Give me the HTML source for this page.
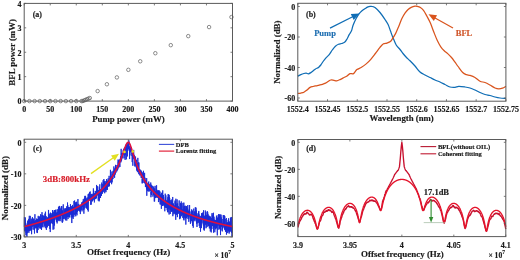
<!DOCTYPE html>
<html><head><meta charset="utf-8"><style>
html,body{margin:0;padding:0;background:#fff;}
body{width:520px;height:260px;overflow:hidden;}
svg{display:block;}
svg text{font-family:"Liberation Serif", "Times New Roman", serif;font-weight:bold;color:#1a1a1a;fill:currentColor;stroke:currentColor;stroke-width:0.16px;}
</style></head><body>
<svg width="520" height="260" viewBox="0 0 520 260">
<rect width="520" height="260" fill="#fff"/>
<g fill="none" stroke="#5c5c5c" stroke-width="0.7"><circle cx="24.2" cy="101.1" r="1.75"/><circle cx="29.41" cy="101.1" r="1.75"/><circle cx="34.62" cy="101.1" r="1.75"/><circle cx="39.82" cy="101.1" r="1.75"/><circle cx="45.03" cy="101.1" r="1.75"/><circle cx="50.24" cy="101.1" r="1.75"/><circle cx="55.45" cy="101.1" r="1.75"/><circle cx="60.65" cy="101.1" r="1.75"/><circle cx="65.86" cy="101.1" r="1.75"/><circle cx="71.07" cy="101.1" r="1.75"/><circle cx="76.28" cy="101.1" r="1.75"/><circle cx="81.48" cy="101.1" r="1.75"/><circle cx="82.78" cy="101" r="1.75"/><circle cx="84.19" cy="100.42" r="1.75"/><circle cx="85.6" cy="99.83" r="1.75"/><circle cx="87" cy="99.22" r="1.75"/><circle cx="88.41" cy="98.61" r="1.75"/><circle cx="89.81" cy="98" r="1.75"/><circle cx="97.63" cy="91.09" r="1.75"/><circle cx="106.9" cy="84.25" r="1.75"/><circle cx="116.89" cy="77.41" r="1.75"/><circle cx="128.35" cy="69.84" r="1.75"/><circle cx="140.22" cy="61.29" r="1.75"/><circle cx="155.32" cy="53.23" r="1.75"/><circle cx="170.79" cy="45.17" r="1.75"/><circle cx="188.24" cy="36.13" r="1.75"/><circle cx="209.07" cy="27.09" r="1.75"/><circle cx="231.46" cy="17.08" r="1.75"/></g>
<path d="M24.2,101.1 v-2.0 M24.2,3.4 v2.0 M50.24,101.1 v-2.0 M50.24,3.4 v2.0 M76.28,101.1 v-2.0 M76.28,3.4 v2.0 M102.31,101.1 v-2.0 M102.31,3.4 v2.0 M128.35,101.1 v-2.0 M128.35,3.4 v2.0 M154.39,101.1 v-2.0 M154.39,3.4 v2.0 M180.43,101.1 v-2.0 M180.43,3.4 v2.0 M206.46,101.1 v-2.0 M206.46,3.4 v2.0 M232.5,101.1 v-2.0 M232.5,3.4 v2.0 M24.2,101.1 h2.0 M232.5,101.1 h-2.0 M24.2,76.67 h2.0 M232.5,76.67 h-2.0 M24.2,52.25 h2.0 M232.5,52.25 h-2.0 M24.2,27.83 h2.0 M232.5,27.83 h-2.0 M24.2,3.4 h2.0 M232.5,3.4 h-2.0" stroke="#5a5a5a" stroke-width="0.8" fill="none"/>
<rect x="24.2" y="3.4" width="208.3" height="97.7" stroke="#5a5a5a" stroke-width="1" fill="none"/>
<text x="24.2" y="111.8" text-anchor="middle" font-size="8">0</text>
<text x="50.24" y="111.8" text-anchor="middle" font-size="8">50</text>
<text x="76.28" y="111.8" text-anchor="middle" font-size="8">100</text>
<text x="102.31" y="111.8" text-anchor="middle" font-size="8">150</text>
<text x="128.35" y="111.8" text-anchor="middle" font-size="8">200</text>
<text x="154.39" y="111.8" text-anchor="middle" font-size="8">250</text>
<text x="180.43" y="111.8" text-anchor="middle" font-size="8">300</text>
<text x="206.46" y="111.8" text-anchor="middle" font-size="8">350</text>
<text x="232.5" y="111.8" text-anchor="middle" font-size="8">400</text>
<text x="21.6" y="104.4" text-anchor="end" font-size="8">0</text>
<text x="21.6" y="79.97" text-anchor="end" font-size="8">1</text>
<text x="21.6" y="55.55" text-anchor="end" font-size="8">2</text>
<text x="21.6" y="31.13" text-anchor="end" font-size="8">3</text>
<text x="21.6" y="6.7" text-anchor="end" font-size="8">4</text>
<text x="128.4" y="121.6" text-anchor="middle" font-size="8.85">Pump power (mW)</text>
<text transform="translate(15.2,52.3) rotate(-90)" text-anchor="middle" font-size="8.85">BFL power (mW)</text>
<text x="32.7" y="17.2" font-size="8">(a)</text>
<path d="M297.8,76.2 C298.3,75.93 299.78,75.05 300.8,74.6 C301.82,74.15 303,73.73 303.9,73.5 C304.8,73.27 305.43,73.15 306.2,73.2 C306.97,73.25 307.73,73.9 308.5,73.8 C309.27,73.7 310.02,73.1 310.8,72.6 C311.58,72.1 312.42,71.42 313.2,70.8 C313.98,70.18 314.62,69.47 315.5,68.9 C316.38,68.33 317.62,68.05 318.5,67.4 C319.38,66.75 320.03,65.98 320.8,65 C321.57,64.02 322.2,62.72 323.1,61.5 C324,60.28 325.18,58.85 326.2,57.7 C327.22,56.55 328.18,55.88 329.2,54.6 C330.22,53.32 331.27,51.4 332.3,50 C333.33,48.6 334.37,47.17 335.4,46.2 C336.43,45.23 337.48,44.65 338.5,44.2 C339.52,43.75 340.48,43.82 341.5,43.5 C342.52,43.18 343.7,43.02 344.6,42.3 C345.5,41.58 346.13,40.48 346.9,39.2 C347.67,37.92 348.43,36 349.2,34.6 C349.97,33.2 350.87,32.32 351.5,30.8 C352.13,29.28 352.25,27.5 353,25.5 C353.75,23.5 354.97,20.78 356,18.8 C357.03,16.82 358.2,14.93 359.2,13.6 C360.2,12.27 360.97,11.67 362,10.8 C363.03,9.93 364.4,9.05 365.4,8.4 C366.4,7.75 367.23,7.23 368,6.9 C368.77,6.57 369.25,6.47 370,6.4 C370.75,6.33 371.67,6.3 372.5,6.5 C373.33,6.7 373.75,6.6 375,7.6 C376.25,8.6 378.33,10.52 380,12.5 C381.67,14.48 383.65,17.48 385,19.5 C386.35,21.52 387.2,22.72 388.1,24.6 C389,26.48 389.63,28.73 390.4,30.8 C391.17,32.87 391.73,34.63 392.7,37 C393.67,39.37 394.98,42.92 396.2,45 C397.42,47.08 398.87,48.08 400,49.5 C401.13,50.92 401.92,52.17 403,53.5 C404.08,54.83 405.33,56.28 406.5,57.5 C407.67,58.72 408.58,59.38 410,60.8 C411.42,62.22 413.33,64.13 415,66 C416.67,67.87 418.33,70.5 420,72 C421.67,73.5 423.33,74.08 425,75 C426.67,75.92 428.33,76.67 430,77.5 C431.67,78.33 433.33,79.25 435,80 C436.67,80.75 438.33,81.25 440,82 C441.67,82.75 443.33,83.67 445,84.5 C446.67,85.33 448.33,86.52 450,87 C451.67,87.48 453.54,87.5 455,87.4 C456.46,87.3 457.08,86.47 458.75,86.4 C460.42,86.33 463.12,86.73 465,87 C466.88,87.27 468.33,87.5 470,88 C471.67,88.5 473.33,89.25 475,90 C476.67,90.75 478.33,91.75 480,92.5 C481.67,93.25 483.33,94 485,94.5 C486.67,95 488.33,95.08 490,95.5 C491.67,95.92 493.33,96.58 495,97 C496.67,97.42 498.18,97.78 500,98 C501.82,98.22 504.92,98.25 505.9,98.3" stroke="#0f6db5" stroke-width="1.25" fill="none" stroke-linejoin="round"/>
<path d="M297.8,93.5 C298.3,93.43 299.78,93.3 300.8,93.1 C301.82,92.9 302.87,92.82 303.9,92.3 C304.93,91.78 305.97,90.82 307,90 C308.03,89.18 309.07,87.98 310.1,87.4 C311.13,86.82 312.18,86.77 313.2,86.5 C314.22,86.23 315.18,86.03 316.2,85.8 C317.22,85.57 318.27,85.35 319.3,85.1 C320.33,84.85 321.37,84.63 322.4,84.3 C323.43,83.97 324.48,83.62 325.5,83.1 C326.52,82.58 327.62,81.72 328.5,81.2 C329.38,80.68 329.9,80.15 330.8,80 C331.7,79.85 332.92,80.17 333.9,80.3 C334.88,80.43 335.68,80.92 336.7,80.8 C337.72,80.68 338.78,80.15 340,79.6 C341.22,79.05 342.83,78.12 344,77.5 C345.17,76.88 346,76.55 347,75.9 C348,75.25 348.92,73.98 350,73.6 C351.08,73.22 352.35,74.27 353.5,73.6 C354.65,72.93 355.57,70.65 356.9,69.6 C358.23,68.55 359.95,68.25 361.5,67.3 C363.05,66.35 364.65,65.23 366.2,63.9 C367.75,62.57 369.27,61.03 370.8,59.3 C372.33,57.57 373.87,55.5 375.4,53.5 C376.93,51.5 378.65,48.92 380,47.3 C381.35,45.68 382.33,44.5 383.5,43.8 C384.67,43.1 385.85,43.47 387,43.1 C388.15,42.73 389.45,42.4 390.4,41.6 C391.35,40.8 391.8,39.72 392.7,38.3 C393.6,36.88 394.78,35.12 395.8,33.1 C396.82,31.08 397.78,28.63 398.8,26.2 C399.82,23.77 400.87,20.68 401.9,18.5 C402.93,16.32 403.97,14.6 405,13.1 C406.03,11.6 407.07,10.45 408.1,9.5 C409.13,8.55 410.05,7.95 411.2,7.4 C412.35,6.85 413.98,6.37 415,6.2 C416.02,6.03 416.4,6.17 417.3,6.4 C418.2,6.63 419.37,6.93 420.4,7.6 C421.43,8.27 422.42,8.97 423.5,10.4 C424.58,11.83 425.75,14.08 426.9,16.2 C428.05,18.32 429.23,20.42 430.4,23.1 C431.57,25.78 432.75,29.4 433.9,32.3 C435.05,35.2 436.15,38.08 437.3,40.5 C438.45,42.92 439.65,45.08 440.8,46.8 C441.95,48.52 443.05,49.67 444.2,50.8 C445.35,51.93 446.48,52.48 447.7,53.6 C448.92,54.72 450.28,56.07 451.5,57.5 C452.72,58.93 453.9,60.7 455,62.2 C456.1,63.7 456.82,64.78 458.1,66.5 C459.38,68.22 461.3,71.13 462.7,72.5 C464.1,73.87 465.28,74.22 466.5,74.7 C467.72,75.18 468.58,74.93 470,75.4 C471.42,75.87 473.33,76.53 475,77.5 C476.67,78.47 478.33,80.42 480,81.25 C481.67,82.08 483.33,81.88 485,82.5 C486.67,83.12 488.33,84.08 490,85 C491.67,85.92 493.54,87.35 495,88 C496.46,88.65 497.5,88.87 498.75,88.9 C500,88.93 501.31,88.63 502.5,88.2 C503.69,87.77 505.33,86.62 505.9,86.3" stroke="#d9541d" stroke-width="1.25" fill="none" stroke-linejoin="round"/>
<line x1="330" y1="28.1" x2="353.14" y2="16.53" stroke="#0f6db5" stroke-width="1.2"/>
<polygon points="359.4,13.4 353.7,19.88 350.79,14.07" fill="#0f6db5"/>
<line x1="453" y1="28.1" x2="434.59" y2="17.65" stroke="#d9541d" stroke-width="1.2"/>
<polygon points="428.5,14.2 437.06,15.32 433.85,20.97" fill="#d9541d"/>
<text x="325.0" y="36.0" text-anchor="middle" font-size="8.5" style="color:#1f6fb2">Pump</text>
<text x="464.0" y="36.4" text-anchor="middle" font-size="8.5" style="color:#d0562a">BFL</text>
<path d="M297.8,101.2 v-2.0 M297.8,3.3 v2.0 M327.53,101.2 v-2.0 M327.53,3.3 v2.0 M357.26,101.2 v-2.0 M357.26,3.3 v2.0 M386.99,101.2 v-2.0 M386.99,3.3 v2.0 M416.71,101.2 v-2.0 M416.71,3.3 v2.0 M446.44,101.2 v-2.0 M446.44,3.3 v2.0 M476.17,101.2 v-2.0 M476.17,3.3 v2.0 M505.9,101.2 v-2.0 M505.9,3.3 v2.0 M297.8,6.5 h2.0 M505.9,6.5 h-2.0 M297.8,37 h2.0 M505.9,37 h-2.0 M297.8,67.5 h2.0 M505.9,67.5 h-2.0 M297.8,98 h2.0 M505.9,98 h-2.0" stroke="#5a5a5a" stroke-width="0.8" fill="none"/>
<rect x="297.8" y="3.3" width="208.1" height="97.9" stroke="#5a5a5a" stroke-width="1" fill="none"/>
<text x="297.8" y="111.8" text-anchor="middle" font-size="8">1552.4</text>
<text x="327.53" y="111.8" text-anchor="middle" font-size="8">1552.45</text>
<text x="357.26" y="111.8" text-anchor="middle" font-size="8">1552.5</text>
<text x="386.99" y="111.8" text-anchor="middle" font-size="8">1552.55</text>
<text x="416.71" y="111.8" text-anchor="middle" font-size="8">1552.6</text>
<text x="446.44" y="111.8" text-anchor="middle" font-size="8">1552.65</text>
<text x="476.17" y="111.8" text-anchor="middle" font-size="8">1552.7</text>
<text x="505.9" y="111.8" text-anchor="middle" font-size="8">1552.75</text>
<text x="295.2" y="9.8" text-anchor="end" font-size="8">0</text>
<text x="295.2" y="40.3" text-anchor="end" font-size="8">-20</text>
<text x="295.2" y="70.8" text-anchor="end" font-size="8">-40</text>
<text x="295.2" y="101.3" text-anchor="end" font-size="8">-60</text>
<text x="401.6" y="121.3" text-anchor="middle" font-size="8.75">Wavelength (nm)</text>
<text transform="translate(280.3,52.2) rotate(-90)" text-anchor="middle" font-size="8.9">Normalized (dB)</text>
<text x="306" y="17.3" font-size="8">(b)</text>
<path d="M24.2,226.66 L24.3,225.18 L24.41,217.15 L24.51,230.91 L24.62,228.76 L24.72,231.34 L24.82,226.21 L24.93,219.97 L25.03,228.83 L25.14,229.43 L25.24,224.01 L25.35,217.44 L25.45,225.82 L25.55,230.82 L25.66,224.71 L25.76,222.88 L25.87,232.74 L25.97,228.41 L26.07,235.37 L26.18,232.38 L26.28,235.03 L26.39,227.22 L26.49,232.19 L26.6,224.71 L26.7,225.24 L26.8,226.88 L26.91,236.9 L27.01,228.52 L27.12,226.12 L27.22,225.31 L27.32,233.22 L27.43,228.11 L27.53,230.5 L27.64,229.65 L27.74,220.6 L27.85,229.59 L27.95,225.82 L28.05,221.37 L28.16,228.42 L28.26,226.11 L28.37,225.01 L28.47,225.21 L28.57,231.39 L28.68,225.09 L28.78,218.89 L28.89,232.86 L28.99,219.94 L29.1,224.77 L29.2,228.41 L29.3,215.83 L29.41,221.59 L29.51,231 L29.62,224.84 L29.72,222.4 L29.82,226.05 L29.93,221.83 L30.03,225.41 L30.14,221.85 L30.24,215.89 L30.34,228.25 L30.45,224 L30.55,229.58 L30.66,224.3 L30.76,230.58 L30.87,227.63 L30.97,225.77 L31.07,220.49 L31.18,219.28 L31.28,231.08 L31.39,228.52 L31.49,221.58 L31.59,234.19 L31.7,226.84 L31.8,225.06 L31.91,218.54 L32.01,221.23 L32.12,226.07 L32.22,226.24 L32.32,225.64 L32.43,217.13 L32.53,226.43 L32.64,225.81 L32.74,222.64 L32.84,224.87 L32.95,225.21 L33.05,229.55 L33.16,222.67 L33.26,226.29 L33.37,218.58 L33.47,221 L33.57,224.2 L33.68,220.87 L33.78,225.64 L33.89,218.98 L33.99,223.99 L34.09,221.15 L34.2,230.05 L34.3,222.22 L34.41,231.88 L34.51,233.5 L34.62,225.23 L34.72,228.03 L34.82,222.94 L34.93,214.23 L35.03,227.62 L35.14,226.6 L35.24,222.62 L35.34,221.23 L35.45,224.38 L35.55,224.49 L35.66,220.14 L35.76,220.98 L35.87,228.32 L35.97,223.76 L36.07,223.19 L36.18,228.32 L36.28,222.06 L36.39,227.33 L36.49,218.62 L36.59,222.29 L36.7,222.75 L36.8,225.94 L36.91,223.67 L37.01,232.53 L37.11,228.4 L37.22,221.3 L37.32,233.05 L37.43,218.95 L37.53,231.18 L37.64,219.31 L37.74,226.85 L37.84,219.14 L37.95,222.17 L38.05,230.02 L38.16,216.83 L38.26,215.89 L38.36,222.98 L38.47,223.93 L38.57,223.36 L38.68,227.17 L38.78,217.36 L38.89,225.07 L38.99,222.72 L39.09,226.18 L39.2,225.36 L39.3,228.4 L39.41,216.43 L39.51,223.04 L39.61,217.74 L39.72,222.19 L39.82,225.49 L39.93,223.72 L40.03,224.79 L40.14,222.09 L40.24,223.86 L40.34,223.47 L40.45,228.5 L40.55,225.78 L40.66,214.2 L40.76,225.08 L40.86,226.84 L40.97,220.28 L41.07,215.23 L41.18,228.62 L41.28,222.74 L41.39,224.7 L41.49,229.95 L41.59,218.22 L41.7,228.24 L41.8,221.27 L41.91,225.09 L42.01,212.14 L42.11,224.03 L42.22,222.14 L42.32,226.62 L42.43,227.09 L42.53,215.13 L42.63,223.71 L42.74,219.94 L42.84,221.43 L42.95,223.3 L43.05,223.58 L43.16,218.23 L43.26,222.55 L43.36,221.81 L43.47,220.97 L43.57,215.55 L43.68,217.83 L43.78,219.19 L43.88,223.56 L43.99,227.34 L44.09,216.45 L44.2,216.34 L44.3,221.46 L44.41,218.25 L44.51,220.06 L44.61,216.83 L44.72,216.38 L44.82,225.71 L44.93,213.56 L45.03,226.36 L45.13,216.53 L45.24,218.2 L45.34,216.41 L45.45,211.71 L45.55,213.5 L45.66,225.67 L45.76,228.16 L45.86,216.5 L45.97,224.96 L46.07,220.28 L46.18,216.3 L46.28,227.76 L46.38,229.89 L46.49,218.88 L46.59,219.84 L46.7,221.15 L46.8,219.8 L46.91,223.92 L47.01,226.9 L47.11,220.64 L47.22,224.33 L47.32,227.39 L47.43,217.43 L47.53,220.02 L47.63,217.82 L47.74,224.23 L47.84,222.66 L47.95,224.2 L48.05,223.64 L48.15,218.62 L48.26,223.09 L48.36,217.81 L48.47,209.95 L48.57,210.05 L48.68,225.75 L48.78,215.22 L48.88,219.68 L48.99,219.3 L49.09,225.87 L49.2,221.28 L49.3,215.71 L49.4,219.47 L49.51,225.56 L49.61,220.35 L49.72,213.68 L49.82,219.04 L49.93,229.01 L50.03,222.05 L50.13,227.87 L50.24,232.05 L50.34,221.19 L50.45,212.62 L50.55,218.48 L50.65,224.02 L50.76,222.92 L50.86,213.41 L50.97,217.82 L51.07,218.29 L51.18,218.72 L51.28,218.26 L51.38,214.72 L51.49,215.84 L51.59,217.34 L51.7,223.05 L51.8,215.92 L51.9,221.33 L52.01,213.18 L52.11,218.38 L52.22,218.73 L52.32,218.1 L52.43,224.06 L52.53,210.14 L52.63,211.3 L52.74,220.02 L52.84,214.36 L52.95,216.11 L53.05,229.69 L53.15,216.62 L53.26,218 L53.36,217.31 L53.47,222.54 L53.57,218.83 L53.68,218.38 L53.78,212.14 L53.88,229.22 L53.99,217.48 L54.09,210.48 L54.2,219.9 L54.3,219.11 L54.4,225.54 L54.51,210.16 L54.61,212.86 L54.72,213.04 L54.82,214.12 L54.92,216.61 L55.03,216.1 L55.13,218.17 L55.24,217.92 L55.34,216.71 L55.45,210.09 L55.55,214.37 L55.65,217.1 L55.76,213.19 L55.86,219.63 L55.97,209.49 L56.07,214.4 L56.17,216.34 L56.28,218.16 L56.38,221.56 L56.49,216.83 L56.59,212.55 L56.7,218.21 L56.8,217.43 L56.9,222.1 L57.01,215.83 L57.11,223.45 L57.22,217.3 L57.32,220.05 L57.42,212.19 L57.53,219.4 L57.63,213.5 L57.74,209.21 L57.84,217.41 L57.95,218.66 L58.05,215.07 L58.15,215.89 L58.26,220.3 L58.36,213.74 L58.47,206.74 L58.57,216.88 L58.67,216.59 L58.78,220.31 L58.88,214.17 L58.99,221.13 L59.09,220.46 L59.2,209.76 L59.3,219.48 L59.4,205.93 L59.51,208.55 L59.61,214.15 L59.72,212.8 L59.82,206.52 L59.92,216.06 L60.03,217.79 L60.13,221.13 L60.24,214.88 L60.34,208.44 L60.44,210.71 L60.55,219.13 L60.65,218.7 L60.76,217.09 L60.86,213.51 L60.97,215.68 L61.07,213.77 L61.17,213.37 L61.28,215.97 L61.38,214.78 L61.49,206.1 L61.59,214.89 L61.69,212.24 L61.8,206.14 L61.9,211.77 L62.01,214.1 L62.11,221.76 L62.22,212.54 L62.32,222.83 L62.42,220.4 L62.53,210.35 L62.63,210.97 L62.74,214.71 L62.84,221.55 L62.94,215.6 L63.05,216.91 L63.15,211.06 L63.26,204.36 L63.36,212.83 L63.47,217.17 L63.57,218.85 L63.67,213.9 L63.78,214.38 L63.88,218.63 L63.99,213.01 L64.09,218.53 L64.19,208.54 L64.3,208.72 L64.4,208.58 L64.51,215.38 L64.61,210.99 L64.72,213.79 L64.82,214.87 L64.92,214.61 L65.03,218.77 L65.13,219.35 L65.24,209.51 L65.34,213.78 L65.44,211.95 L65.55,208.47 L65.65,220.38 L65.76,216.19 L65.86,211.95 L65.96,210.95 L66.07,214.27 L66.17,208.08 L66.28,211.61 L66.38,217.78 L66.49,216.5 L66.59,208.88 L66.69,210.33 L66.8,220.57 L66.9,206.39 L67.01,209.61 L67.11,206.32 L67.21,213.78 L67.32,213.36 L67.42,216.92 L67.53,202.52 L67.63,212.69 L67.74,204.99 L67.84,214.64 L67.94,211.08 L68.05,218.99 L68.15,213.35 L68.26,207.39 L68.36,217.02 L68.46,206.91 L68.57,210.05 L68.67,215.97 L68.78,213.58 L68.88,209.65 L68.99,211.53 L69.09,213.58 L69.19,214.79 L69.3,217.09 L69.4,215.55 L69.51,216.64 L69.61,211.23 L69.71,207.17 L69.82,217.52 L69.92,210.87 L70.03,213.63 L70.13,214.99 L70.24,207.07 L70.34,212.91 L70.44,204.2 L70.55,213.94 L70.65,208.88 L70.76,211.47 L70.86,213.68 L70.96,207.87 L71.07,211.01 L71.17,207.71 L71.28,210.45 L71.38,214.84 L71.49,210.58 L71.59,209.87 L71.69,205.95 L71.8,223.04 L71.9,210.11 L72.01,217.25 L72.11,207.06 L72.21,214.41 L72.32,217.45 L72.42,209.94 L72.53,204.93 L72.63,216.08 L72.73,214.17 L72.84,212.65 L72.94,214.24 L73.05,207.77 L73.15,218.94 L73.26,212.35 L73.36,206.75 L73.46,212.39 L73.57,207.29 L73.67,213.2 L73.78,214.16 L73.88,216.75 L73.98,201.04 L74.09,210.22 L74.19,207.78 L74.3,208.9 L74.4,208.03 L74.51,208.45 L74.61,200.54 L74.71,212.94 L74.82,215.08 L74.92,212.72 L75.03,214.02 L75.13,211.95 L75.23,204.83 L75.34,212.28 L75.44,214.04 L75.55,209.62 L75.65,202.22 L75.76,216.3 L75.86,205.75 L75.96,212.43 L76.07,203.49 L76.17,212.33 L76.28,208.95 L76.38,214.01 L76.48,211.74 L76.59,201.78 L76.69,204.09 L76.8,209.16 L76.9,204.39 L77.01,215.29 L77.11,208.96 L77.21,207.38 L77.32,207.55 L77.42,207.54 L77.53,211.77 L77.63,207.31 L77.73,207.14 L77.84,201.54 L77.94,199.09 L78.05,207.38 L78.15,209.94 L78.25,206.97 L78.36,209.17 L78.46,209.67 L78.57,206.77 L78.67,210.8 L78.78,203.9 L78.88,206.79 L78.98,205.26 L79.09,207 L79.19,209.19 L79.3,210.05 L79.4,207.05 L79.5,208.28 L79.61,204.99 L79.71,205.91 L79.82,211.46 L79.92,205.5 L80.03,211.26 L80.13,208.2 L80.23,206.81 L80.34,214.09 L80.44,205.11 L80.55,204.8 L80.65,206.02 L80.75,207.05 L80.86,206.78 L80.96,209.2 L81.07,206.23 L81.17,207.33 L81.28,204.63 L81.38,209.88 L81.48,203.92 L81.59,204.24 L81.69,205.35 L81.8,206.5 L81.9,202.39 L82,211.38 L82.11,202.64 L82.21,203.47 L82.32,203.25 L82.42,202.78 L82.53,206.94 L82.63,206.36 L82.73,201.56 L82.84,202.34 L82.94,203.19 L83.05,210.12 L83.15,201.72 L83.25,199.1 L83.36,199.68 L83.46,202.77 L83.57,209.96 L83.67,199.77 L83.77,204.12 L83.88,213.71 L83.98,201.88 L84.09,209.37 L84.19,208.51 L84.3,205.77 L84.4,198.01 L84.5,204.58 L84.61,201.92 L84.71,195.91 L84.82,196.47 L84.92,203.24 L85.02,203.73 L85.13,207.76 L85.23,205.41 L85.34,200.85 L85.44,200.91 L85.55,195.89 L85.65,197.04 L85.75,205.39 L85.86,202.46 L85.96,199.24 L86.07,199.76 L86.17,197.75 L86.27,200.38 L86.38,208.43 L86.48,200.39 L86.59,205.76 L86.69,208.22 L86.8,199.32 L86.9,201.78 L87,200.27 L87.11,204.62 L87.21,202.8 L87.32,203.67 L87.42,204.64 L87.52,210.08 L87.63,202.41 L87.73,197.46 L87.84,201.14 L87.94,203.25 L88.05,200.86 L88.15,194.26 L88.25,211.55 L88.36,201.08 L88.46,198.38 L88.57,197.76 L88.67,193.68 L88.77,195.84 L88.88,199.01 L88.98,198.98 L89.09,197 L89.19,200.27 L89.3,200.11 L89.4,196.33 L89.5,192.14 L89.61,200.36 L89.71,199.85 L89.82,198.81 L89.92,194.27 L90.02,199.56 L90.13,193.64 L90.23,191.47 L90.34,199.94 L90.44,199.92 L90.54,196.01 L90.65,194.93 L90.75,204.79 L90.86,202.4 L90.96,197.47 L91.07,201.25 L91.17,204.52 L91.27,194.52 L91.38,196.56 L91.48,196.49 L91.59,200.15 L91.69,194.27 L91.79,199.09 L91.9,193.86 L92,201.52 L92.11,201.22 L92.21,197.07 L92.32,200.48 L92.42,195.1 L92.52,196.62 L92.63,201.08 L92.73,197.18 L92.84,198.73 L92.94,193.8 L93.04,199.65 L93.15,198.83 L93.25,192.44 L93.36,188.44 L93.46,189.28 L93.57,196.59 L93.67,195.91 L93.77,190.83 L93.88,197.06 L93.98,200.21 L94.09,195.98 L94.19,194.63 L94.29,199.4 L94.4,202.41 L94.5,201.53 L94.61,193.49 L94.71,198.79 L94.82,196.38 L94.92,194.96 L95.02,193.34 L95.13,196.85 L95.23,193.63 L95.34,198.77 L95.44,196.7 L95.54,199.1 L95.65,190.92 L95.75,195.18 L95.86,197.76 L95.96,196.23 L96.06,195.65 L96.17,192.12 L96.27,191.69 L96.38,198.43 L96.48,195.88 L96.59,184.95 L96.69,190.74 L96.79,194.62 L96.9,191.47 L97,186.39 L97.11,194.81 L97.21,195.21 L97.31,189.27 L97.42,191.84 L97.52,191.1 L97.63,195.37 L97.73,186.3 L97.84,187.01 L97.94,191.13 L98.04,190.61 L98.15,194.51 L98.25,200.64 L98.36,193.56 L98.46,191.16 L98.56,190.16 L98.67,193.82 L98.77,198.66 L98.88,191.04 L98.98,194.99 L99.09,201.39 L99.19,194.3 L99.29,193.24 L99.4,200.31 L99.5,187.38 L99.61,190.79 L99.71,187.58 L99.81,184.34 L99.92,191.34 L100.02,197.84 L100.13,194.45 L100.23,195.48 L100.34,192.84 L100.44,190.64 L100.54,198.03 L100.65,189.5 L100.75,196.05 L100.86,189.46 L100.96,190.82 L101.06,191.45 L101.17,190.48 L101.27,192.05 L101.38,192.2 L101.48,195.92 L101.58,189.92 L101.69,183.14 L101.79,182.56 L101.9,184.8 L102,186.89 L102.11,191.69 L102.21,184.07 L102.31,189.28 L102.42,193.76 L102.52,189.89 L102.63,188.43 L102.73,190.18 L102.83,188.84 L102.94,192.25 L103.04,185.39 L103.15,180.21 L103.25,188.35 L103.36,188.83 L103.46,186.02 L103.56,185.3 L103.67,191.55 L103.77,188.27 L103.88,179.04 L103.98,186.39 L104.08,186.79 L104.19,181.71 L104.29,189.33 L104.4,186.58 L104.5,188.55 L104.61,181.49 L104.71,193.25 L104.81,188.72 L104.92,188.11 L105.02,183.89 L105.13,183.97 L105.23,181.15 L105.33,191.21 L105.44,183.13 L105.54,186.58 L105.65,187.73 L105.75,183.5 L105.86,188.35 L105.96,192.15 L106.06,186.23 L106.17,189.93 L106.27,186.92 L106.38,183.35 L106.48,183.42 L106.58,179 L106.69,184.9 L106.79,189.26 L106.9,186.51 L107,186.93 L107.11,187.8 L107.21,182.13 L107.31,185.62 L107.42,189.93 L107.52,180.88 L107.63,183.44 L107.73,181.75 L107.83,182.46 L107.94,180.58 L108.04,182.42 L108.15,178.33 L108.25,180.87 L108.35,180.85 L108.46,180.66 L108.56,186.65 L108.67,182.27 L108.77,182.44 L108.88,180.78 L108.98,185.75 L109.08,175.85 L109.19,180.7 L109.29,183.93 L109.4,186.3 L109.5,181.52 L109.6,180.76 L109.71,182.65 L109.81,179.89 L109.92,182.1 L110.02,178.12 L110.13,182.07 L110.23,179.72 L110.33,176.32 L110.44,169.84 L110.54,182.37 L110.65,180.48 L110.75,181.52 L110.85,176.21 L110.96,182.18 L111.06,179.93 L111.17,178.33 L111.27,181.17 L111.38,180.94 L111.48,175.87 L111.58,184.2 L111.69,181.98 L111.79,178.59 L111.9,171.54 L112,177.56 L112.1,182.33 L112.21,178.09 L112.31,174.02 L112.42,179.13 L112.52,176.4 L112.63,178.73 L112.73,173.89 L112.83,177.44 L112.94,179.07 L113.04,177.77 L113.15,170.74 L113.25,174.31 L113.35,171.29 L113.46,176.09 L113.56,171.62 L113.67,176.1 L113.77,176.34 L113.87,166.46 L113.98,171.45 L114.08,175.07 L114.19,173.64 L114.29,172.24 L114.4,169.43 L114.5,174.29 L114.6,177.81 L114.71,173.3 L114.81,172.24 L114.92,171.77 L115.02,168.04 L115.12,170.79 L115.23,169.15 L115.33,174.54 L115.44,169.19 L115.54,164.86 L115.65,168.51 L115.75,169.81 L115.85,169.9 L115.96,165.01 L116.06,172.6 L116.17,170.06 L116.27,168.22 L116.37,167.22 L116.48,170.37 L116.58,168.05 L116.69,169.49 L116.79,168.16 L116.9,168.66 L117,171.27 L117.1,167.92 L117.21,165.2 L117.31,170.11 L117.42,167.87 L117.52,165.15 L117.62,169.71 L117.73,165.88 L117.83,169.22 L117.94,162.99 L118.04,159.57 L118.15,160.14 L118.25,165.99 L118.35,162.1 L118.46,164.88 L118.56,164.43 L118.67,160.33 L118.77,167.74 L118.87,161.18 L118.98,166.35 L119.08,159.78 L119.19,162.76 L119.29,164.77 L119.39,162.04 L119.5,160.6 L119.6,162.17 L119.71,160.75 L119.81,163.1 L119.92,166.98 L120.02,158.94 L120.12,159.2 L120.23,160.35 L120.33,160.29 L120.44,157.58 L120.54,161.08 L120.64,161.43 L120.75,159.87 L120.85,156.17 L120.96,162.29 L121.06,155.64 L121.17,148.84 L121.27,160.72 L121.37,154.68 L121.48,153.25 L121.58,160.33 L121.69,157.77 L121.79,154.39 L121.89,153.49 L122,157.07 L122.1,154.8 L122.21,153.79 L122.31,156.7 L122.42,154.07 L122.52,154.68 L122.62,155.55 L122.73,158.43 L122.83,153.57 L122.94,153.36 L123.04,154.42 L123.14,153.8 L123.25,150.03 L123.35,151.76 L123.46,149.96 L123.56,148.97 L123.67,154.34 L123.77,153.8 L123.87,150.01 L123.98,149.6 L124.08,158.32 L124.19,148.68 L124.29,147.9 L124.39,155.35 L124.5,154.49 L124.6,147.9 L124.71,155.25 L124.81,147.5 L124.92,148.95 L125.02,148.98 L125.12,159.89 L125.23,155.98 L125.33,147.56 L125.44,154.83 L125.54,149.07 L125.64,149.09 L125.75,144.78 L125.85,146.41 L125.96,151.96 L126.06,148.78 L126.16,149.27 L126.27,147.92 L126.37,159.34 L126.48,144.53 L126.58,149.88 L126.69,145.55 L126.79,145.02 L126.89,149.68 L127,147.69 L127.1,149.69 L127.21,149.03 L127.31,142.78 L127.41,156.42 L127.52,146.69 L127.62,150.07 L127.73,144.72 L127.83,145.23 L127.94,149.48 L128.04,150.32 L128.14,150.48 L128.25,145.78 L128.35,143.54 L128.46,143.38 L128.56,149 L128.66,147.04 L128.77,146.52 L128.87,140.4 L128.98,145.31 L129.08,148.47 L129.19,146.14 L129.29,148.05 L129.39,147.82 L129.5,148.39 L129.6,159.04 L129.71,148.44 L129.81,153.28 L129.91,155.45 L130.02,146.9 L130.12,150.8 L130.23,149.11 L130.33,150.69 L130.44,148.12 L130.54,149.12 L130.64,152.26 L130.75,152.02 L130.85,151.46 L130.96,149.12 L131.06,152.01 L131.16,151.37 L131.27,147.24 L131.37,151.39 L131.48,148.11 L131.58,152.59 L131.68,153.98 L131.79,154.54 L131.89,154.68 L132,156.07 L132.1,153.21 L132.21,162.08 L132.31,152.57 L132.41,152.84 L132.52,154.53 L132.62,153.57 L132.73,150.56 L132.83,165.76 L132.93,157.88 L133.04,151.63 L133.14,154.8 L133.25,156.16 L133.35,155.28 L133.46,158.23 L133.56,155.06 L133.66,149.9 L133.77,153.28 L133.87,158.97 L133.98,158.75 L134.08,157.95 L134.18,154.87 L134.29,159.62 L134.39,159.63 L134.5,155.79 L134.6,156.45 L134.71,159.82 L134.81,164.99 L134.91,166.53 L135.02,161.57 L135.12,165.74 L135.23,158.53 L135.33,162.33 L135.43,159.8 L135.54,156.54 L135.64,158.6 L135.75,164.88 L135.85,159.95 L135.96,159.47 L136.06,166.57 L136.16,165.56 L136.27,163.63 L136.37,167.85 L136.48,160 L136.58,170.57 L136.68,167.4 L136.79,165.44 L136.89,165.6 L137,168.94 L137.1,164.78 L137.21,166.36 L137.31,162.94 L137.41,172.16 L137.52,166.56 L137.62,168.78 L137.73,166.7 L137.83,157.86 L137.93,170.1 L138.04,169.6 L138.14,165.84 L138.25,167.33 L138.35,170.46 L138.45,163.03 L138.56,162.49 L138.66,166.65 L138.77,174.18 L138.87,162.56 L138.98,171.94 L139.08,169.56 L139.18,171.02 L139.29,172.21 L139.39,171.49 L139.5,172.7 L139.6,169.15 L139.7,172.71 L139.81,173.05 L139.91,175.51 L140.02,172.34 L140.12,175.05 L140.23,173.16 L140.33,169.74 L140.43,171.95 L140.54,171.75 L140.64,172.39 L140.75,173.49 L140.85,174.25 L140.95,175 L141.06,171.98 L141.16,177.75 L141.27,170.61 L141.37,174.77 L141.48,177.35 L141.58,176.76 L141.68,177.53 L141.79,175.16 L141.89,178.05 L142,172.51 L142.1,178.63 L142.2,183.43 L142.31,178.86 L142.41,183.02 L142.52,177.09 L142.62,173.84 L142.73,175.3 L142.83,181.7 L142.93,180.08 L143.04,172.27 L143.14,177.04 L143.25,178.21 L143.35,172.13 L143.45,170.8 L143.56,174.63 L143.66,178.47 L143.77,177.96 L143.87,177.29 L143.97,181.39 L144.08,182.99 L144.18,179.59 L144.29,182.97 L144.39,180.29 L144.5,179.95 L144.6,172.85 L144.7,183.34 L144.81,181.14 L144.91,181.44 L145.02,179.64 L145.12,177.81 L145.22,182.98 L145.33,184.23 L145.43,187.07 L145.54,184.89 L145.64,180.24 L145.75,182.01 L145.85,185.66 L145.95,183.69 L146.06,182.51 L146.16,181.09 L146.27,184.88 L146.37,183.9 L146.47,189.27 L146.58,187.2 L146.68,178.1 L146.79,195.77 L146.89,184.93 L147,183.2 L147.1,185.34 L147.2,186.95 L147.31,184.57 L147.41,189.91 L147.52,184.93 L147.62,191.15 L147.72,185.43 L147.83,187.97 L147.93,187.07 L148.04,184.57 L148.14,183.29 L148.25,182.55 L148.35,191.36 L148.45,182.72 L148.56,181.99 L148.66,182.24 L148.77,181.5 L148.87,186.91 L148.97,187.14 L149.08,183.82 L149.18,191.53 L149.29,186.21 L149.39,188.9 L149.49,188.47 L149.6,189.52 L149.7,190.54 L149.81,187.64 L149.91,184.6 L150.02,184.36 L150.12,188.23 L150.22,188.73 L150.33,191.11 L150.43,186.9 L150.54,189.31 L150.64,186.43 L150.74,182.51 L150.85,188.92 L150.95,197.22 L151.06,192.09 L151.16,194.33 L151.27,193.52 L151.37,184.76 L151.47,188.71 L151.58,195.04 L151.68,187.42 L151.79,185.37 L151.89,191.27 L151.99,192.51 L152.1,191.42 L152.2,189.3 L152.31,188.14 L152.41,186.31 L152.52,186.31 L152.62,186.51 L152.72,185.98 L152.83,188.61 L152.93,196.64 L153.04,193.87 L153.14,192.85 L153.24,192.83 L153.35,188.24 L153.45,192.96 L153.56,195.13 L153.66,186.62 L153.77,189.55 L153.87,191.29 L153.97,188.81 L154.08,188.42 L154.18,191.16 L154.29,201.5 L154.39,195.09 L154.49,194.39 L154.6,201.3 L154.7,192.19 L154.81,188.64 L154.91,194.91 L155.02,197.41 L155.12,185.85 L155.22,195.1 L155.33,198.09 L155.43,192.76 L155.54,192.16 L155.64,196.45 L155.74,191 L155.85,195.84 L155.95,197.56 L156.06,193.57 L156.16,191.46 L156.26,196.79 L156.37,193.29 L156.47,194.97 L156.58,185.26 L156.68,197.47 L156.79,189.73 L156.89,195.2 L156.99,195.58 L157.1,192.49 L157.2,191.93 L157.31,190.62 L157.41,194.24 L157.51,197.83 L157.62,197.69 L157.72,193.83 L157.83,193.66 L157.93,190.66 L158.04,194.45 L158.14,192.11 L158.24,190.47 L158.35,195.68 L158.45,202.04 L158.56,200.97 L158.66,202.04 L158.76,190.61 L158.87,199.98 L158.97,192.15 L159.08,194.7 L159.18,190.47 L159.29,193.28 L159.39,197.59 L159.49,198.05 L159.6,197.05 L159.7,196.79 L159.81,199.58 L159.91,197.76 L160.01,191.53 L160.12,204.35 L160.22,196.89 L160.33,201.47 L160.43,197.34 L160.54,194.9 L160.64,198.45 L160.74,195.32 L160.85,204.54 L160.95,194.19 L161.06,200.77 L161.16,196.23 L161.26,198.02 L161.37,208.84 L161.47,201.83 L161.58,198.11 L161.68,193.01 L161.78,198.02 L161.89,198.21 L161.99,204.8 L162.1,193.79 L162.2,192.4 L162.31,199.43 L162.41,200.48 L162.51,206.03 L162.62,196.32 L162.72,190.39 L162.83,197.12 L162.93,195.05 L163.03,197.96 L163.14,204.04 L163.24,194.99 L163.35,205.18 L163.45,201.23 L163.56,199.38 L163.66,197.07 L163.76,198.99 L163.87,199.18 L163.97,203.79 L164.08,205.95 L164.18,200.69 L164.28,203.82 L164.39,206.26 L164.49,206.18 L164.6,203.18 L164.7,208.66 L164.81,211.28 L164.91,208.29 L165.01,200.8 L165.12,199.98 L165.22,193.68 L165.33,207.72 L165.43,204.53 L165.53,198.25 L165.64,202.83 L165.74,206.31 L165.85,195.28 L165.95,203.54 L166.06,206.88 L166.16,207.6 L166.26,201.05 L166.37,201.24 L166.47,208.04 L166.58,206.57 L166.68,200.53 L166.78,200.43 L166.89,205.41 L166.99,200.39 L167.1,208.43 L167.2,210.21 L167.3,204.36 L167.41,201.49 L167.51,205.55 L167.62,211.94 L167.72,204.52 L167.83,200.4 L167.93,197.11 L168.03,212.45 L168.14,194.18 L168.24,208.28 L168.35,199.9 L168.45,198.84 L168.55,194.45 L168.66,203.37 L168.76,208.77 L168.87,201.56 L168.97,207.09 L169.08,214.52 L169.18,194.85 L169.28,201.49 L169.39,197.03 L169.49,208.23 L169.6,198.58 L169.7,198.14 L169.8,198.35 L169.91,204.85 L170.01,209.75 L170.12,205.62 L170.22,213.98 L170.33,212 L170.43,204.71 L170.53,209.22 L170.64,205.89 L170.74,205.72 L170.85,201.28 L170.95,200.07 L171.05,205.65 L171.16,200.55 L171.26,208.8 L171.37,211.77 L171.47,201.96 L171.58,210.9 L171.68,206.99 L171.78,211.35 L171.89,205.47 L171.99,199.27 L172.1,209.19 L172.2,205.21 L172.3,209.92 L172.41,211.03 L172.51,211.45 L172.62,200.35 L172.72,196.98 L172.83,216.19 L172.93,207.92 L173.03,203.7 L173.14,208.07 L173.24,203.41 L173.35,205.59 L173.45,205.7 L173.55,204.39 L173.66,209.39 L173.76,208.72 L173.87,214.28 L173.97,209 L174.07,213.15 L174.18,207.88 L174.28,211.33 L174.39,206.96 L174.49,205.55 L174.6,213.45 L174.7,210.96 L174.8,211.57 L174.91,204.54 L175.01,200.57 L175.12,204.21 L175.22,209.31 L175.32,201.75 L175.43,214.32 L175.53,201.71 L175.64,210.83 L175.74,219.82 L175.85,198.72 L175.95,201.59 L176.05,212.64 L176.16,212.05 L176.26,209.31 L176.37,208.02 L176.47,214.77 L176.57,211.44 L176.68,206.64 L176.78,207.73 L176.89,203.66 L176.99,208.45 L177.1,199.38 L177.2,211.92 L177.3,207.85 L177.41,217.12 L177.51,214.37 L177.62,203.47 L177.72,213.16 L177.82,206.96 L177.93,209.53 L178.03,213.76 L178.14,210.85 L178.24,211.61 L178.35,211.55 L178.45,206.32 L178.55,206.8 L178.66,212.1 L178.76,213.55 L178.87,208.53 L178.97,210.22 L179.07,205.45 L179.18,200.43 L179.28,206.34 L179.39,210.15 L179.49,210.78 L179.59,219.16 L179.7,214.03 L179.8,214.5 L179.91,211.95 L180.01,208.26 L180.12,207.17 L180.22,212.12 L180.32,211.3 L180.43,218.37 L180.53,203.49 L180.64,208.43 L180.74,202.97 L180.84,207.28 L180.95,204.35 L181.05,211.87 L181.16,207.77 L181.26,201.44 L181.37,216.22 L181.47,205.93 L181.57,203.73 L181.68,209.28 L181.78,207.85 L181.89,205.67 L181.99,214.14 L182.09,209.49 L182.2,215.18 L182.3,214.38 L182.41,214.17 L182.51,212.12 L182.62,210.89 L182.72,209.58 L182.82,217.91 L182.93,202.89 L183.03,206.59 L183.14,208.55 L183.24,213.41 L183.34,212.26 L183.45,209.48 L183.55,210.13 L183.66,219.49 L183.76,208.75 L183.87,202.64 L183.97,220.38 L184.07,207.76 L184.18,210.59 L184.28,212.78 L184.39,206.2 L184.49,217.67 L184.59,211.7 L184.7,205.92 L184.8,213.4 L184.91,214.44 L185.01,212.09 L185.11,214.65 L185.22,205.75 L185.32,216.82 L185.43,208.87 L185.53,218.46 L185.64,209.87 L185.74,213.4 L185.84,224.6 L185.95,213.04 L186.05,217.86 L186.16,215.11 L186.26,206.21 L186.36,218.23 L186.47,218.02 L186.57,206.78 L186.68,212.8 L186.78,206.41 L186.89,211.95 L186.99,217.44 L187.09,213.8 L187.2,207.98 L187.3,209.33 L187.41,213.63 L187.51,213.45 L187.61,214.23 L187.72,216.38 L187.82,205.05 L187.93,213.81 L188.03,219.02 L188.14,216.1 L188.24,210.68 L188.34,211.1 L188.45,214.68 L188.55,217.14 L188.66,214.04 L188.76,221.79 L188.86,220.15 L188.97,210.64 L189.07,216.49 L189.18,212.65 L189.28,208.85 L189.39,211.48 L189.49,214.39 L189.59,205.06 L189.7,211.52 L189.8,216.22 L189.91,211.31 L190.01,212.83 L190.11,218.64 L190.22,214.44 L190.32,215.56 L190.43,223.84 L190.53,215.68 L190.64,216.23 L190.74,216.98 L190.84,222.54 L190.95,216.68 L191.05,215.28 L191.16,214.67 L191.26,220.38 L191.36,212.32 L191.47,220.83 L191.57,216.32 L191.68,209.35 L191.78,218.55 L191.88,217.76 L191.99,210.53 L192.09,217.26 L192.2,216.9 L192.3,214.56 L192.41,210.79 L192.51,225.78 L192.61,219.5 L192.72,220.36 L192.82,220.76 L192.93,219.74 L193.03,219.71 L193.13,214.5 L193.24,227.74 L193.34,215.4 L193.45,214.16 L193.55,219.4 L193.66,215.48 L193.76,208.59 L193.86,214.67 L193.97,219.13 L194.07,216.53 L194.18,220.49 L194.28,215.06 L194.38,212.38 L194.49,220.15 L194.59,217.39 L194.7,211.34 L194.8,218.79 L194.91,215.67 L195.01,221.29 L195.11,220.38 L195.22,219.01 L195.32,207.22 L195.43,218.57 L195.53,219.15 L195.63,219.34 L195.74,217.58 L195.84,213.91 L195.95,216.05 L196.05,207.65 L196.16,216.01 L196.26,210.47 L196.36,215.8 L196.47,214.35 L196.57,223.66 L196.68,217.74 L196.78,217.51 L196.88,218.34 L196.99,227.03 L197.09,213.32 L197.2,219.1 L197.3,219.37 L197.4,218.57 L197.51,218.49 L197.61,215.64 L197.72,223.29 L197.82,221.79 L197.93,216.28 L198.03,216.97 L198.13,219.38 L198.24,220.31 L198.34,221.53 L198.45,218.04 L198.55,212.44 L198.65,222.66 L198.76,210.94 L198.86,214.07 L198.97,220.01 L199.07,214.41 L199.18,224.7 L199.28,225.94 L199.38,223.97 L199.49,219.99 L199.59,219.64 L199.7,220.54 L199.8,217.77 L199.9,228.01 L200.01,216.27 L200.11,224.81 L200.22,221.38 L200.32,220.28 L200.43,221.56 L200.53,231.71 L200.63,223.1 L200.74,218.59 L200.84,215.87 L200.95,216.02 L201.05,223.19 L201.15,222.29 L201.26,222.92 L201.36,216.67 L201.47,228.1 L201.57,213.12 L201.68,221.06 L201.78,222.46 L201.88,217.34 L201.99,214.19 L202.09,217.39 L202.2,214.17 L202.3,218.41 L202.4,213.42 L202.51,213.38 L202.61,219.59 L202.72,212.55 L202.82,218.44 L202.92,218.83 L203.03,223.5 L203.13,220.62 L203.24,215.75 L203.34,225.4 L203.45,216.4 L203.55,210.25 L203.65,218.18 L203.76,229.65 L203.86,219.99 L203.97,216.56 L204.07,223.1 L204.17,219.2 L204.28,230.62 L204.38,216.58 L204.49,222.77 L204.59,215.72 L204.7,228.28 L204.8,216.61 L204.9,220.93 L205.01,216.13 L205.11,224.18 L205.22,222.79 L205.32,210.5 L205.42,223.83 L205.53,223.29 L205.63,221.34 L205.74,224.82 L205.84,214.6 L205.95,212.16 L206.05,223.44 L206.15,228.21 L206.26,214.81 L206.36,215.13 L206.47,216.49 L206.57,214.97 L206.67,219.83 L206.78,223.93 L206.88,226.85 L206.99,227.04 L207.09,215.93 L207.2,223.64 L207.3,211.08 L207.4,220.23 L207.51,223.58 L207.61,216.93 L207.72,212.29 L207.82,218.44 L207.92,226.39 L208.03,219.03 L208.13,214.38 L208.24,223.11 L208.34,224.45 L208.45,216.14 L208.55,220.25 L208.65,226.07 L208.76,222.73 L208.86,224.52 L208.97,219.64 L209.07,220.54 L209.17,215.72 L209.28,217.8 L209.38,228.44 L209.49,219.27 L209.59,217.01 L209.69,219.1 L209.8,216.45 L209.9,223.85 L210.01,225.76 L210.11,217 L210.22,226.35 L210.32,231.5 L210.42,216.63 L210.53,224.85 L210.63,222.92 L210.74,228.06 L210.84,227.75 L210.94,226.99 L211.05,223.29 L211.15,219.9 L211.26,232.42 L211.36,218.16 L211.47,227.25 L211.57,226.74 L211.67,218.59 L211.78,222.15 L211.88,229.03 L211.99,213.2 L212.09,225.92 L212.19,220.75 L212.3,221 L212.4,215.34 L212.51,224.13 L212.61,217.29 L212.72,225.54 L212.82,216.8 L212.92,225.69 L213.03,223.84 L213.13,213.24 L213.24,220.7 L213.34,226.15 L213.44,212.78 L213.55,232.68 L213.65,226.14 L213.76,218.87 L213.86,227.92 L213.97,217.06 L214.07,216.72 L214.17,225.13 L214.28,225.42 L214.38,221.65 L214.49,222.45 L214.59,227.15 L214.69,219.89 L214.8,232.23 L214.9,224.66 L215.01,224.55 L215.11,223.96 L215.21,221.25 L215.32,228.53 L215.42,219.97 L215.53,223.63 L215.63,226.02 L215.74,229.29 L215.84,227.35 L215.94,221.18 L216.05,227.47 L216.15,222.63 L216.26,217.94 L216.36,218.1 L216.46,215.63 L216.57,224.45 L216.67,228.21 L216.78,218.26 L216.88,221.65 L216.99,217.82 L217.09,223.12 L217.19,217.53 L217.3,235.35 L217.4,219.85 L217.51,220.89 L217.61,221.41 L217.71,222.22 L217.82,222.28 L217.92,218.68 L218.03,225.83 L218.13,215.19 L218.24,223.96 L218.34,218.8 L218.44,223.93 L218.55,224.7 L218.65,214.09 L218.76,225.05 L218.86,229.68 L218.96,227.03 L219.07,225.16 L219.17,214.22 L219.28,222.72 L219.38,219.28 L219.49,228.52 L219.59,214.95 L219.69,228.18 L219.8,217.14 L219.9,227.17 L220.01,221.01 L220.11,222.46 L220.21,228.8 L220.32,214.49 L220.42,225.23 L220.53,235.09 L220.63,221.17 L220.73,221.47 L220.84,226.17 L220.94,230.49 L221.05,214.66 L221.15,222.88 L221.26,219.32 L221.36,217.46 L221.46,226.71 L221.57,220.37 L221.67,225.42 L221.78,224.59 L221.88,224.73 L221.98,224.35 L222.09,219.04 L222.19,223.8 L222.3,231.37 L222.4,225.76 L222.51,222.83 L222.61,228.77 L222.71,226.91 L222.82,224.78 L222.92,227.26 L223.03,225.15 L223.13,227.53 L223.23,215.17 L223.34,218.28 L223.44,222.52 L223.55,224.95 L223.65,215.26 L223.76,223.2 L223.86,225.18 L223.96,223.34 L224.07,223.35 L224.17,218.07 L224.28,224.95 L224.38,215.42 L224.48,229.14 L224.59,221.6 L224.69,229.76 L224.8,216.25 L224.9,226.59 L225.01,225.3 L225.11,220.6 L225.21,219.03 L225.32,230.43 L225.42,226.78 L225.53,231.84 L225.63,224.5 L225.73,225.67 L225.84,226.88 L225.94,228.52 L226.05,227.1 L226.15,228.86 L226.26,222.75 L226.36,218.02 L226.46,234.63 L226.57,225.92 L226.67,227.4 L226.78,223.03 L226.88,230.01 L226.98,226.15 L227.09,230.48 L227.19,222.14 L227.3,225.04 L227.4,226.32 L227.5,223.77 L227.61,226.77 L227.71,233.1 L227.82,222.75 L227.92,224.26 L228.03,226.41 L228.13,220.94 L228.23,219.83 L228.34,231.01 L228.44,229.53 L228.55,218.31 L228.65,218.95 L228.75,229.39 L228.86,231.55 L228.96,228.95 L229.07,228.29 L229.17,233.57 L229.28,225.78 L229.38,232.14 L229.48,231.83 L229.59,221.56 L229.69,229.32 L229.8,226.38 L229.9,223.01 L230,222.14 L230.11,227.73 L230.21,225.91 L230.32,230.14 L230.42,217.7 L230.53,223.04 L230.63,231.55 L230.73,226.21 L230.84,222.79 L230.94,223.95 L231.05,217.42 L231.15,219.66 L231.25,228.95 L231.36,226.79 L231.46,232.59 L231.57,225.18 L231.67,225.68 L231.78,216.98 L231.88,225.98 L231.98,236.64 L232.09,229.76 L232.19,225.97 L232.3,232.64 L232.4,230.77" stroke="#1a2bd6" stroke-width="0.9" fill="none" stroke-linejoin="round"/>
<path d="M24.2,226.66 L24.46,226.59 L24.72,226.53 L24.98,226.46 L25.24,226.39 L25.5,226.32 L25.76,226.25 L26.02,226.18 L26.28,226.11 L26.55,226.04 L26.81,225.97 L27.07,225.9 L27.33,225.83 L27.59,225.76 L27.85,225.69 L28.11,225.62 L28.37,225.55 L28.63,225.47 L28.89,225.4 L29.15,225.33 L29.41,225.26 L29.67,225.19 L29.93,225.12 L30.19,225.04 L30.45,224.97 L30.71,224.9 L30.97,224.82 L31.24,224.75 L31.5,224.68 L31.76,224.6 L32.02,224.53 L32.28,224.46 L32.54,224.38 L32.8,224.31 L33.06,224.23 L33.32,224.16 L33.58,224.08 L33.84,224.01 L34.1,223.93 L34.36,223.86 L34.62,223.78 L34.88,223.7 L35.14,223.63 L35.4,223.55 L35.67,223.47 L35.93,223.4 L36.19,223.32 L36.45,223.24 L36.71,223.17 L36.97,223.09 L37.23,223.01 L37.49,222.93 L37.75,222.85 L38.01,222.77 L38.27,222.7 L38.53,222.62 L38.79,222.54 L39.05,222.46 L39.31,222.38 L39.57,222.3 L39.83,222.22 L40.1,222.14 L40.36,222.06 L40.62,221.97 L40.88,221.89 L41.14,221.81 L41.4,221.73 L41.66,221.65 L41.92,221.57 L42.18,221.48 L42.44,221.4 L42.7,221.32 L42.96,221.23 L43.22,221.15 L43.48,221.07 L43.74,220.98 L44,220.9 L44.26,220.81 L44.52,220.73 L44.79,220.64 L45.05,220.56 L45.31,220.47 L45.57,220.39 L45.83,220.3 L46.09,220.21 L46.35,220.13 L46.61,220.04 L46.87,219.95 L47.13,219.87 L47.39,219.78 L47.65,219.69 L47.91,219.6 L48.17,219.51 L48.43,219.42 L48.69,219.34 L48.95,219.25 L49.22,219.16 L49.48,219.07 L49.74,218.98 L50,218.89 L50.26,218.79 L50.52,218.7 L50.78,218.61 L51.04,218.52 L51.3,218.43 L51.56,218.33 L51.82,218.24 L52.08,218.15 L52.34,218.06 L52.6,217.96 L52.86,217.87 L53.12,217.77 L53.38,217.68 L53.65,217.58 L53.91,217.49 L54.17,217.39 L54.43,217.3 L54.69,217.2 L54.95,217.1 L55.21,217.01 L55.47,216.91 L55.73,216.81 L55.99,216.71 L56.25,216.61 L56.51,216.52 L56.77,216.42 L57.03,216.32 L57.29,216.22 L57.55,216.12 L57.81,216.02 L58.07,215.92 L58.34,215.81 L58.6,215.71 L58.86,215.61 L59.12,215.51 L59.38,215.4 L59.64,215.3 L59.9,215.2 L60.16,215.09 L60.42,214.99 L60.68,214.88 L60.94,214.78 L61.2,214.67 L61.46,214.57 L61.72,214.46 L61.98,214.35 L62.24,214.25 L62.5,214.14 L62.77,214.03 L63.03,213.92 L63.29,213.81 L63.55,213.7 L63.81,213.59 L64.07,213.48 L64.33,213.37 L64.59,213.26 L64.85,213.15 L65.11,213.04 L65.37,212.93 L65.63,212.81 L65.89,212.7 L66.15,212.59 L66.41,212.47 L66.67,212.36 L66.93,212.24 L67.19,212.12 L67.46,212.01 L67.72,211.89 L67.98,211.77 L68.24,211.66 L68.5,211.54 L68.76,211.42 L69.02,211.3 L69.28,211.18 L69.54,211.06 L69.8,210.94 L70.06,210.82 L70.32,210.7 L70.58,210.57 L70.84,210.45 L71.1,210.33 L71.36,210.2 L71.62,210.08 L71.89,209.95 L72.15,209.83 L72.41,209.7 L72.67,209.57 L72.93,209.44 L73.19,209.32 L73.45,209.19 L73.71,209.06 L73.97,208.93 L74.23,208.8 L74.49,208.67 L74.75,208.53 L75.01,208.4 L75.27,208.27 L75.53,208.13 L75.79,208 L76.05,207.86 L76.32,207.73 L76.58,207.59 L76.84,207.46 L77.1,207.32 L77.36,207.18 L77.62,207.04 L77.88,206.9 L78.14,206.76 L78.4,206.62 L78.66,206.48 L78.92,206.33 L79.18,206.19 L79.44,206.04 L79.7,205.9 L79.96,205.75 L80.22,205.61 L80.48,205.46 L80.74,205.31 L81.01,205.16 L81.27,205.01 L81.53,204.86 L81.79,204.71 L82.05,204.56 L82.31,204.41 L82.57,204.25 L82.83,204.1 L83.09,203.94 L83.35,203.78 L83.61,203.63 L83.87,203.47 L84.13,203.31 L84.39,203.15 L84.65,202.99 L84.91,202.83 L85.17,202.66 L85.44,202.5 L85.7,202.33 L85.96,202.17 L86.22,202 L86.48,201.83 L86.74,201.66 L87,201.49 L87.26,201.32 L87.52,201.15 L87.78,200.98 L88.04,200.8 L88.3,200.63 L88.56,200.45 L88.82,200.27 L89.08,200.1 L89.34,199.92 L89.6,199.73 L89.87,199.55 L90.13,199.37 L90.39,199.18 L90.65,199 L90.91,198.81 L91.17,198.62 L91.43,198.43 L91.69,198.24 L91.95,198.05 L92.21,197.86 L92.47,197.66 L92.73,197.46 L92.99,197.27 L93.25,197.07 L93.51,196.87 L93.77,196.66 L94.03,196.46 L94.29,196.26 L94.56,196.05 L94.82,195.84 L95.08,195.63 L95.34,195.42 L95.6,195.21 L95.86,194.99 L96.12,194.78 L96.38,194.56 L96.64,194.34 L96.9,194.12 L97.16,193.89 L97.42,193.67 L97.68,193.44 L97.94,193.21 L98.2,192.98 L98.46,192.75 L98.72,192.52 L98.99,192.28 L99.25,192.04 L99.51,191.8 L99.77,191.56 L100.03,191.32 L100.29,191.07 L100.55,190.82 L100.81,190.57 L101.07,190.32 L101.33,190.06 L101.59,189.8 L101.85,189.54 L102.11,189.28 L102.37,189.02 L102.63,188.75 L102.89,188.48 L103.15,188.21 L103.42,187.93 L103.68,187.65 L103.94,187.37 L104.2,187.09 L104.46,186.8 L104.72,186.51 L104.98,186.22 L105.24,185.93 L105.5,185.63 L105.76,185.33 L106.02,185.02 L106.28,184.71 L106.54,184.4 L106.8,184.09 L107.06,183.77 L107.32,183.45 L107.58,183.12 L107.84,182.79 L108.11,182.46 L108.37,182.13 L108.63,181.79 L108.89,181.44 L109.15,181.09 L109.41,180.74 L109.67,180.38 L109.93,180.02 L110.19,179.65 L110.45,179.28 L110.71,178.91 L110.97,178.53 L111.23,178.14 L111.49,177.75 L111.75,177.36 L112.01,176.96 L112.27,176.55 L112.54,176.14 L112.8,175.72 L113.06,175.3 L113.32,174.87 L113.58,174.43 L113.84,173.99 L114.1,173.54 L114.36,173.09 L114.62,172.63 L114.88,172.16 L115.14,171.68 L115.4,171.2 L115.66,170.71 L115.92,170.21 L116.18,169.71 L116.44,169.19 L116.7,168.67 L116.96,168.14 L117.23,167.6 L117.49,167.06 L117.75,166.5 L118.01,165.93 L118.27,165.36 L118.53,164.78 L118.79,164.18 L119.05,163.58 L119.31,162.96 L119.57,162.34 L119.83,161.71 L120.09,161.06 L120.35,160.41 L120.61,159.75 L120.87,159.07 L121.13,158.39 L121.39,157.7 L121.66,156.99 L121.92,156.28 L122.18,155.56 L122.44,154.83 L122.7,154.1 L122.96,153.36 L123.22,152.62 L123.48,151.88 L123.74,151.13 L124,150.39 L124.26,149.65 L124.52,148.92 L124.78,148.2 L125.04,147.5 L125.3,146.82 L125.56,146.16 L125.82,145.53 L126.09,144.95 L126.35,144.4 L126.61,143.91 L126.87,143.47 L127.13,143.09 L127.39,142.78 L127.65,142.54 L127.91,142.38 L128.17,142.3 L128.43,142.3 L128.69,142.4 L128.95,142.61 L129.21,142.92 L129.47,143.33 L129.73,143.82 L129.99,144.38 L130.25,145.01 L130.51,145.69 L130.78,146.43 L131.04,147.2 L131.3,148 L131.56,148.82 L131.82,149.66 L132.08,150.5 L132.34,151.36 L132.6,152.21 L132.86,153.07 L133.12,153.92 L133.38,154.76 L133.64,155.6 L133.9,156.42 L134.16,157.24 L134.42,158.04 L134.68,158.83 L134.94,159.6 L135.21,160.37 L135.47,161.12 L135.73,161.85 L135.99,162.58 L136.25,163.29 L136.51,163.98 L136.77,164.66 L137.03,165.34 L137.29,165.99 L137.55,166.64 L137.81,167.27 L138.07,167.89 L138.33,168.5 L138.59,169.1 L138.85,169.69 L139.11,170.27 L139.37,170.84 L139.64,171.39 L139.9,171.94 L140.16,172.48 L140.42,173.01 L140.68,173.53 L140.94,174.04 L141.2,174.54 L141.46,175.04 L141.72,175.52 L141.98,176 L142.24,176.47 L142.5,176.94 L142.76,177.39 L143.02,177.84 L143.28,178.28 L143.54,178.72 L143.8,179.15 L144.06,179.57 L144.33,179.99 L144.59,180.4 L144.85,180.8 L145.11,181.2 L145.37,181.6 L145.63,181.98 L145.89,182.37 L146.15,182.75 L146.41,183.12 L146.67,183.49 L146.93,183.85 L147.19,184.21 L147.45,184.56 L147.71,184.91 L147.97,185.26 L148.23,185.6 L148.49,185.93 L148.76,186.27 L149.02,186.6 L149.28,186.92 L149.54,187.24 L149.8,187.56 L150.06,187.87 L150.32,188.18 L150.58,188.49 L150.84,188.79 L151.1,189.09 L151.36,189.39 L151.62,189.68 L151.88,189.97 L152.14,190.26 L152.4,190.54 L152.66,190.82 L152.92,191.1 L153.18,191.38 L153.45,191.65 L153.71,191.92 L153.97,192.18 L154.23,192.45 L154.49,192.71 L154.75,192.97 L155.01,193.23 L155.27,193.48 L155.53,193.73 L155.79,193.98 L156.05,194.23 L156.31,194.47 L156.57,194.71 L156.83,194.95 L157.09,195.19 L157.35,195.43 L157.61,195.66 L157.88,195.89 L158.14,196.12 L158.4,196.35 L158.66,196.57 L158.92,196.8 L159.18,197.02 L159.44,197.24 L159.7,197.46 L159.96,197.67 L160.22,197.89 L160.48,198.1 L160.74,198.31 L161,198.52 L161.26,198.72 L161.52,198.93 L161.78,199.13 L162.04,199.34 L162.31,199.54 L162.57,199.74 L162.83,199.93 L163.09,200.13 L163.35,200.32 L163.61,200.52 L163.87,200.71 L164.13,200.9 L164.39,201.08 L164.65,201.27 L164.91,201.46 L165.17,201.64 L165.43,201.82 L165.69,202.01 L165.95,202.19 L166.21,202.36 L166.47,202.54 L166.73,202.72 L167,202.89 L167.26,203.07 L167.52,203.24 L167.78,203.41 L168.04,203.58 L168.3,203.75 L168.56,203.92 L168.82,204.08 L169.08,204.25 L169.34,204.41 L169.6,204.58 L169.86,204.74 L170.12,204.9 L170.38,205.06 L170.64,205.22 L170.9,205.37 L171.16,205.53 L171.43,205.69 L171.69,205.84 L171.95,205.99 L172.21,206.15 L172.47,206.3 L172.73,206.45 L172.99,206.6 L173.25,206.75 L173.51,206.9 L173.77,207.04 L174.03,207.19 L174.29,207.33 L174.55,207.48 L174.81,207.62 L175.07,207.76 L175.33,207.9 L175.59,208.04 L175.86,208.18 L176.12,208.32 L176.38,208.46 L176.64,208.6 L176.9,208.73 L177.16,208.87 L177.42,209 L177.68,209.14 L177.94,209.27 L178.2,209.4 L178.46,209.54 L178.72,209.67 L178.98,209.8 L179.24,209.93 L179.5,210.05 L179.76,210.18 L180.02,210.31 L180.28,210.44 L180.55,210.56 L180.81,210.69 L181.07,210.81 L181.33,210.93 L181.59,211.06 L181.85,211.18 L182.11,211.3 L182.37,211.42 L182.63,211.54 L182.89,211.66 L183.15,211.78 L183.41,211.9 L183.67,212.01 L183.93,212.13 L184.19,212.25 L184.45,212.36 L184.71,212.48 L184.98,212.59 L185.24,212.71 L185.5,212.82 L185.76,212.93 L186.02,213.04 L186.28,213.15 L186.54,213.27 L186.8,213.38 L187.06,213.49 L187.32,213.59 L187.58,213.7 L187.84,213.81 L188.1,213.92 L188.36,214.02 L188.62,214.13 L188.88,214.24 L189.14,214.34 L189.41,214.45 L189.67,214.55 L189.93,214.65 L190.19,214.76 L190.45,214.86 L190.71,214.96 L190.97,215.06 L191.23,215.16 L191.49,215.26 L191.75,215.36 L192.01,215.46 L192.27,215.56 L192.53,215.66 L192.79,215.76 L193.05,215.86 L193.31,215.95 L193.57,216.05 L193.83,216.15 L194.1,216.24 L194.36,216.34 L194.62,216.43 L194.88,216.53 L195.14,216.62 L195.4,216.71 L195.66,216.81 L195.92,216.9 L196.18,216.99 L196.44,217.08 L196.7,217.17 L196.96,217.26 L197.22,217.35 L197.48,217.44 L197.74,217.53 L198,217.62 L198.26,217.71 L198.53,217.8 L198.79,217.89 L199.05,217.97 L199.31,218.06 L199.57,218.15 L199.83,218.23 L200.09,218.32 L200.35,218.4 L200.61,218.49 L200.87,218.57 L201.13,218.66 L201.39,218.74 L201.65,218.83 L201.91,218.91 L202.17,218.99 L202.43,219.07 L202.69,219.16 L202.95,219.24 L203.22,219.32 L203.48,219.4 L203.74,219.48 L204,219.56 L204.26,219.64 L204.52,219.72 L204.78,219.8 L205.04,219.88 L205.3,219.96 L205.56,220.03 L205.82,220.11 L206.08,220.19 L206.34,220.27 L206.6,220.34 L206.86,220.42 L207.12,220.49 L207.38,220.57 L207.65,220.65 L207.91,220.72 L208.17,220.8 L208.43,220.87 L208.69,220.94 L208.95,221.02 L209.21,221.09 L209.47,221.16 L209.73,221.24 L209.99,221.31 L210.25,221.38 L210.51,221.45 L210.77,221.53 L211.03,221.6 L211.29,221.67 L211.55,221.74 L211.81,221.81 L212.08,221.88 L212.34,221.95 L212.6,222.02 L212.86,222.09 L213.12,222.16 L213.38,222.22 L213.64,222.29 L213.9,222.36 L214.16,222.43 L214.42,222.5 L214.68,222.56 L214.94,222.63 L215.2,222.7 L215.46,222.76 L215.72,222.83 L215.98,222.9 L216.24,222.96 L216.5,223.03 L216.77,223.09 L217.03,223.16 L217.29,223.22 L217.55,223.29 L217.81,223.35 L218.07,223.41 L218.33,223.48 L218.59,223.54 L218.85,223.6 L219.11,223.67 L219.37,223.73 L219.63,223.79 L219.89,223.85 L220.15,223.91 L220.41,223.98 L220.67,224.04 L220.93,224.1 L221.2,224.16 L221.46,224.22 L221.72,224.28 L221.98,224.34 L222.24,224.4 L222.5,224.46 L222.76,224.52 L223.02,224.58 L223.28,224.64 L223.54,224.7 L223.8,224.75 L224.06,224.81 L224.32,224.87 L224.58,224.93 L224.84,224.98 L225.1,225.04 L225.36,225.1 L225.63,225.16 L225.89,225.21 L226.15,225.27 L226.41,225.33 L226.67,225.38 L226.93,225.44 L227.19,225.49 L227.45,225.55 L227.71,225.6 L227.97,225.66 L228.23,225.71 L228.49,225.77 L228.75,225.82 L229.01,225.88 L229.27,225.93 L229.53,225.98 L229.79,226.04 L230.05,226.09 L230.32,226.14 L230.58,226.2 L230.84,226.25 L231.1,226.3 L231.36,226.35 L231.62,226.41 L231.88,226.46 L232.14,226.51 L232.4,226.56" stroke="#dc1040" stroke-width="1.6" fill="none" stroke-linejoin="round"/>
<circle cx="124.5" cy="151.9" r="1.3" fill="#e6e01e"/>
<circle cx="132.8" cy="151.4" r="1.3" fill="#e6e01e"/>
<line x1="91" y1="173.6" x2="113.69" y2="157.55" stroke="#e2e022" stroke-width="1.3"/>
<polygon points="119,153.8 114.75,160.78 111,155.48" fill="#e2e022"/>
<text x="66.4" y="182.2" text-anchor="middle" font-size="8.85" style="color:#d81c28">3dB:800kHz</text>
<line x1="158.9" y1="144.4" x2="174.2" y2="144.4" stroke="#3a4ed8" stroke-width="1.1"/>
<line x1="158.9" y1="151.1" x2="174.2" y2="151.1" stroke="#e0102a" stroke-width="1.1"/>
<text x="175.8" y="146.7" font-size="6.5">DFB</text>
<text x="175.8" y="153.4" font-size="6.5">Lorentz fitting</text>
<path d="M24.2,236.9 v-2.0 M24.2,139.2 v2.0 M76.25,236.9 v-2.0 M76.25,139.2 v2.0 M128.3,236.9 v-2.0 M128.3,139.2 v2.0 M180.35,236.9 v-2.0 M180.35,139.2 v2.0 M232.4,236.9 v-2.0 M232.4,139.2 v2.0 M24.2,142.29 h2.0 M232.4,142.29 h-2.0 M24.2,173.83 h2.0 M232.4,173.83 h-2.0 M24.2,205.36 h2.0 M232.4,205.36 h-2.0 M24.2,236.9 h2.0 M232.4,236.9 h-2.0" stroke="#5a5a5a" stroke-width="0.8" fill="none"/>
<rect x="24.2" y="139.2" width="208.2" height="97.7" stroke="#5a5a5a" stroke-width="1" fill="none"/>
<text x="24.2" y="247.6" text-anchor="middle" font-size="8">3</text>
<text x="76.25" y="247.6" text-anchor="middle" font-size="8">3.5</text>
<text x="128.3" y="247.6" text-anchor="middle" font-size="8">4</text>
<text x="180.35" y="247.6" text-anchor="middle" font-size="8">4.5</text>
<text x="232.4" y="247.6" text-anchor="middle" font-size="8">5</text>
<text x="21.5" y="145.59" text-anchor="end" font-size="8">0</text>
<text x="21.5" y="177.13" text-anchor="end" font-size="8">-10</text>
<text x="21.5" y="208.66" text-anchor="end" font-size="8">-20</text>
<text x="21.5" y="240.2" text-anchor="end" font-size="8">-30</text>
<text x="128.7" y="254.5" text-anchor="middle" font-size="9.0">Offset frequency (Hz)</text>
<text transform="translate(7.7,188.1) rotate(-90)" text-anchor="middle" font-size="9.0">Normalized (dB)</text>
<text x="33" y="151.1" font-size="8">(c)</text>
<text x="214.4" y="258.2" font-size="7.6">× 10<tspan dy="-3.9" font-size="5.6">7</tspan></text>
<path d="M297.9,227.27 L298,227.11 L298.11,226.76 L298.21,226.34 L298.32,226.02 L298.42,225.47 L298.52,225.21 L298.63,224.58 L298.73,224.3 L298.84,223.9 L298.94,223.3 L299.04,223.17 L299.15,223.08 L299.25,222.68 L299.36,222.39 L299.46,222.1 L299.56,222.01 L299.67,221.76 L299.77,221.4 L299.88,221.09 L299.98,221.04 L300.08,220.83 L300.19,220.53 L300.29,220.63 L300.39,220.59 L300.5,220.27 L300.6,219.91 L300.71,219.82 L300.81,219.56 L300.91,219.37 L301.02,219.29 L301.12,219.31 L301.23,218.97 L301.33,218.94 L301.43,218.66 L301.54,218.1 L301.64,217.9 L301.75,217.72 L301.85,217.47 L301.95,217.22 L302.06,217.27 L302.16,216.91 L302.27,216.91 L302.37,216.61 L302.47,216.41 L302.58,216.41 L302.68,216.06 L302.79,216.18 L302.89,216.16 L302.99,215.6 L303.1,215.37 L303.2,215.35 L303.31,215.32 L303.41,215.06 L303.51,214.89 L303.62,214.98 L303.72,214.71 L303.83,214.55 L303.93,214.32 L304.03,213.95 L304.14,214.04 L304.24,214.17 L304.34,214.36 L304.45,214.03 L304.55,214.12 L304.66,213.63 L304.76,213.62 L304.86,213.63 L304.97,213.49 L305.07,213.59 L305.18,213.6 L305.28,214 L305.38,214.05 L305.49,214.03 L305.59,214.15 L305.7,214.08 L305.8,213.87 L305.9,213.83 L306.01,213.98 L306.11,213.67 L306.22,213.34 L306.32,213.22 L306.42,213.28 L306.53,213.09 L306.63,212.71 L306.74,212.34 L306.84,212.23 L306.94,212.25 L307.05,212.27 L307.15,212.41 L307.26,212.24 L307.36,212.37 L307.46,212.67 L307.57,212.68 L307.67,212.59 L307.78,212.61 L307.88,212.98 L307.98,213.43 L308.09,213.33 L308.19,213.34 L308.29,213.39 L308.4,213.65 L308.5,213.73 L308.61,213.7 L308.71,213.77 L308.81,214.07 L308.92,213.94 L309.02,214.36 L309.13,214.52 L309.23,214.47 L309.33,214.62 L309.44,214.79 L309.54,214.82 L309.65,214.9 L309.75,215.02 L309.85,214.93 L309.96,214.98 L310.06,214.9 L310.17,214.75 L310.27,214.7 L310.37,214.55 L310.48,214.56 L310.58,214.34 L310.69,214.33 L310.79,214.32 L310.89,214.72 L311,214.48 L311.1,214.32 L311.21,214.55 L311.31,214.34 L311.41,214.62 L311.52,214.58 L311.62,214.71 L311.73,214.85 L311.83,215.1 L311.93,215.24 L312.04,215.39 L312.14,215.37 L312.25,215.51 L312.35,215.98 L312.45,216.2 L312.56,216.36 L312.66,216.48 L312.76,217.09 L312.87,217.29 L312.97,218 L313.08,218.19 L313.18,218.73 L313.28,218.75 L313.39,218.74 L313.49,219.27 L313.6,219.59 L313.7,219.48 L313.8,219.79 L313.91,220.23 L314.01,220.74 L314.12,220.91 L314.22,221.28 L314.32,221.38 L314.43,221.02 L314.53,221.3 L314.64,221.67 L314.74,222.08 L314.84,222.36 L314.95,222.67 L315.05,223.25 L315.16,223.5 L315.26,223.58 L315.36,223.61 L315.47,223.69 L315.57,224.02 L315.68,224.36 L315.78,224.86 L315.88,225.29 L315.99,225.64 L316.09,225.55 L316.2,226.18 L316.3,226.54 L316.4,227.05 L316.51,227.34 L316.61,227.9 L316.71,228.09 L316.82,228.33 L316.92,228.46 L317.03,228.91 L317.13,228.98 L317.23,229 L317.34,229 L317.44,228.86 L317.55,228.64 L317.65,228.55 L317.75,228.22 L317.86,228.26 L317.96,227.85 L318.07,227.89 L318.17,227.6 L318.27,227.35 L318.38,226.66 L318.48,226.2 L318.59,225.84 L318.69,225.7 L318.79,224.95 L318.9,224.68 L319,224.2 L319.11,223.73 L319.21,223.26 L319.31,222.92 L319.42,222.16 L319.52,221.97 L319.63,221.56 L319.73,221.69 L319.83,221.65 L319.94,221.49 L320.04,221.29 L320.15,221.29 L320.25,220.94 L320.35,220.76 L320.46,220.69 L320.56,220.4 L320.67,220.2 L320.77,220.02 L320.87,219.87 L320.98,219.38 L321.08,218.86 L321.18,218.36 L321.29,218.12 L321.39,217.84 L321.5,217.49 L321.6,216.53 L321.7,216.33 L321.81,216.19 L321.91,216.12 L322.02,216.09 L322.12,215.77 L322.22,215.67 L322.33,215.74 L322.43,215.61 L322.54,215.6 L322.64,215.61 L322.74,215.29 L322.85,215.06 L322.95,214.93 L323.06,214.29 L323.16,214.2 L323.26,213.92 L323.37,213.41 L323.47,213.06 L323.58,212.91 L323.68,212.48 L323.78,212.43 L323.89,212.12 L323.99,211.8 L324.1,211.82 L324.2,212.07 L324.3,212.2 L324.41,212.24 L324.51,212.23 L324.62,212.09 L324.72,212 L324.82,212.15 L324.93,212.1 L325.03,211.96 L325.13,211.89 L325.24,211.88 L325.34,211.68 L325.45,211.72 L325.55,211.33 L325.65,211.16 L325.76,211.09 L325.86,210.97 L325.97,211.17 L326.07,211.21 L326.17,210.96 L326.28,210.88 L326.38,210.52 L326.49,210.88 L326.59,211.29 L326.69,211.29 L326.8,211.21 L326.9,211.32 L327.01,211.11 L327.11,211.17 L327.21,211 L327.32,210.34 L327.42,210.8 L327.53,210.89 L327.63,210.54 L327.73,210.96 L327.84,210.35 L327.94,210.25 L328.05,210.01 L328.15,209.8 L328.25,209.97 L328.36,210.01 L328.46,209.9 L328.57,210.14 L328.67,210.28 L328.77,209.98 L328.88,210.12 L328.98,210.27 L329.08,210.44 L329.19,210.16 L329.29,210.15 L329.4,209.95 L329.5,210.05 L329.6,210.13 L329.71,210.48 L329.81,210.46 L329.92,210.31 L330.02,210.45 L330.12,210.44 L330.23,210.22 L330.33,210.38 L330.44,210.3 L330.54,210.5 L330.64,210.93 L330.75,211 L330.85,211.02 L330.96,210.82 L331.06,211.16 L331.16,211.33 L331.27,211.54 L331.37,211.63 L331.48,211.54 L331.58,211.67 L331.68,212.06 L331.79,212.41 L331.89,212.48 L332,212.1 L332.1,212.37 L332.2,212.43 L332.31,212.36 L332.41,211.99 L332.52,211.69 L332.62,211.68 L332.72,211.84 L332.83,212.33 L332.93,212.34 L333.04,212.36 L333.14,212.33 L333.24,212.58 L333.35,212.84 L333.45,212.79 L333.55,212.97 L333.66,213.71 L333.76,214.19 L333.87,214.16 L333.97,214.88 L334.07,214.98 L334.18,215.3 L334.28,215.49 L334.39,215.67 L334.49,216.12 L334.59,216.24 L334.7,216.51 L334.8,216.7 L334.91,216.9 L335.01,217.21 L335.11,217.7 L335.22,217.89 L335.32,218.14 L335.43,218.23 L335.53,218.51 L335.63,218.79 L335.74,219.07 L335.84,219.14 L335.95,219.67 L336.05,219.75 L336.15,220.21 L336.26,220.81 L336.36,221.34 L336.47,221.53 L336.57,221.66 L336.67,222.12 L336.78,222.53 L336.88,223.01 L336.99,223.26 L337.09,223.58 L337.19,224.1 L337.3,224.62 L337.4,224.89 L337.5,225.24 L337.61,225.51 L337.71,225.96 L337.82,226.38 L337.92,226.87 L338.02,227.17 L338.13,227.2 L338.23,227.55 L338.34,227.61 L338.44,227.85 L338.54,227.68 L338.65,227.99 L338.75,228.3 L338.86,227.85 L338.96,227.43 L339.06,227.11 L339.17,226.85 L339.27,226.09 L339.38,225.87 L339.48,225.32 L339.58,225.14 L339.69,224.72 L339.79,224.43 L339.9,223.49 L340,222.47 L340.1,221.61 L340.21,221.42 L340.31,220.82 L340.42,220.61 L340.52,220.54 L340.62,220.26 L340.73,219.98 L340.83,219.63 L340.94,219.39 L341.04,219.01 L341.14,218.64 L341.25,218.2 L341.35,217.99 L341.46,217.91 L341.56,217.6 L341.66,217.38 L341.77,216.78 L341.87,216.55 L341.97,216.43 L342.08,215.9 L342.18,215.24 L342.29,215.03 L342.39,214.84 L342.49,214.64 L342.6,214.5 L342.7,214.32 L342.81,213.94 L342.91,213.78 L343.01,213.43 L343.12,213.23 L343.22,212.9 L343.33,212.7 L343.43,212.69 L343.53,212.72 L343.64,212.18 L343.74,212.02 L343.85,211.78 L343.95,211.3 L344.05,211.01 L344.16,210.72 L344.26,210.53 L344.37,210.48 L344.47,210.23 L344.57,210.15 L344.68,209.92 L344.78,209.69 L344.89,209.29 L344.99,209.03 L345.09,209 L345.2,209.13 L345.3,209.54 L345.41,209.51 L345.51,209.45 L345.61,209.11 L345.72,209.09 L345.82,208.91 L345.92,208.94 L346.03,208.42 L346.13,208.23 L346.24,208.24 L346.34,208.27 L346.44,208.13 L346.55,207.42 L346.65,207.26 L346.76,207.22 L346.86,206.98 L346.96,206.99 L347.07,206.81 L347.17,206.78 L347.28,206.8 L347.38,206.57 L347.48,206.81 L347.59,206.52 L347.69,206.47 L347.8,206.43 L347.9,206.37 L348,206.37 L348.11,206.46 L348.21,206.19 L348.32,206.03 L348.42,205.94 L348.52,205.72 L348.63,206.18 L348.73,206.23 L348.84,206.46 L348.94,206.21 L349.04,206.23 L349.15,206.18 L349.25,206.45 L349.36,206.51 L349.46,206.96 L349.56,206.7 L349.67,206.8 L349.77,207.04 L349.88,206.98 L349.98,206.72 L350.08,206.82 L350.19,206.97 L350.29,206.94 L350.39,207.15 L350.5,206.95 L350.6,206.83 L350.71,206.62 L350.81,206.83 L350.91,206.94 L351.02,206.83 L351.12,206.77 L351.23,206.63 L351.33,206.72 L351.43,206.79 L351.54,206.6 L351.64,206.8 L351.75,207.27 L351.85,207.18 L351.95,207.25 L352.06,207.35 L352.16,207.24 L352.27,207.18 L352.37,207.04 L352.47,207.13 L352.58,207.48 L352.68,207.55 L352.79,207.94 L352.89,207.85 L352.99,207.39 L353.1,207.49 L353.2,207.9 L353.31,207.95 L353.41,208.25 L353.51,208.19 L353.62,208.34 L353.72,208.43 L353.83,208.48 L353.93,208.43 L354.03,208.54 L354.14,208.61 L354.24,208.89 L354.34,208.88 L354.45,208.98 L354.55,208.9 L354.66,209.25 L354.76,209.46 L354.86,209.79 L354.97,210.11 L355.07,210.42 L355.18,210.57 L355.28,210.39 L355.38,210.52 L355.49,211.07 L355.59,211.11 L355.7,211.27 L355.8,211.14 L355.9,211.64 L356.01,211.45 L356.11,211.79 L356.22,212.23 L356.32,212.53 L356.42,213 L356.53,213.29 L356.63,213.85 L356.74,213.72 L356.84,213.91 L356.94,214.55 L357.05,215.05 L357.15,215.06 L357.26,215.66 L357.36,215.79 L357.46,216.18 L357.57,216.35 L357.67,216.63 L357.78,217.12 L357.88,217.23 L357.98,217.88 L358.09,218.32 L358.19,218.51 L358.29,218.92 L358.4,219.15 L358.5,219.55 L358.61,219.98 L358.71,220.12 L358.81,220.46 L358.92,221.01 L359.02,221.25 L359.13,221.64 L359.23,221.94 L359.33,222.45 L359.44,222.66 L359.54,222.7 L359.65,222.36 L359.75,222.16 L359.85,221.92 L359.96,221.59 L360.06,221.17 L360.17,220.68 L360.27,220.36 L360.37,219.89 L360.48,219.6 L360.58,218.72 L360.69,218.1 L360.79,217.94 L360.89,217.78 L361,217.44 L361.1,217.34 L361.21,216.96 L361.31,216.6 L361.41,216.49 L361.52,216.21 L361.62,215.97 L361.73,215.38 L361.83,215.05 L361.93,214.76 L362.04,214.26 L362.14,213.41 L362.25,213.2 L362.35,212.93 L362.45,212.34 L362.56,211.95 L362.66,211.25 L362.76,211.26 L362.87,210.66 L362.97,210.25 L363.08,209.94 L363.18,210.21 L363.28,209.91 L363.39,209.81 L363.49,209.56 L363.6,209.26 L363.7,209.07 L363.8,208.88 L363.91,208.46 L364.01,207.77 L364.12,207.58 L364.22,207.6 L364.32,207.35 L364.43,206.9 L364.53,206.77 L364.64,206.23 L364.74,206.38 L364.84,206.15 L364.95,205.56 L365.05,205.22 L365.16,205.11 L365.26,205.23 L365.36,204.97 L365.47,204.8 L365.57,204.37 L365.68,204.17 L365.78,203.81 L365.88,203.65 L365.99,203.53 L366.09,202.85 L366.2,202.9 L366.3,203.1 L366.4,202.91 L366.51,203.08 L366.61,202.77 L366.71,202.59 L366.82,202.63 L366.92,202.42 L367.03,202.52 L367.13,202.48 L367.23,202.46 L367.34,202.28 L367.44,202.44 L367.55,202.32 L367.65,202.23 L367.75,202.14 L367.86,202.09 L367.96,202.03 L368.07,202.08 L368.17,201.94 L368.27,201.93 L368.38,201.98 L368.48,201.77 L368.59,201.96 L368.69,201.84 L368.79,201.82 L368.9,201.79 L369,201.52 L369.11,201.06 L369.21,201.07 L369.31,200.98 L369.42,200.89 L369.52,200.55 L369.63,200.51 L369.73,200.36 L369.83,200.22 L369.94,200.23 L370.04,200.39 L370.15,200.14 L370.25,200.38 L370.35,200.67 L370.46,200.76 L370.56,200.64 L370.66,200.63 L370.77,200.63 L370.87,200.75 L370.98,200.79 L371.08,200.74 L371.18,200.47 L371.29,200.59 L371.39,200.57 L371.5,200.26 L371.6,200.24 L371.7,199.88 L371.81,199.91 L371.91,199.72 L372.02,200.06 L372.12,200.07 L372.22,200.44 L372.33,200.77 L372.43,200.78 L372.54,200.69 L372.64,200.43 L372.74,200.4 L372.85,200.65 L372.95,200.74 L373.06,200.77 L373.16,200.8 L373.26,200.78 L373.37,200.92 L373.47,200.8 L373.58,200.47 L373.68,200.41 L373.78,200.58 L373.89,201 L373.99,201.38 L374.1,201.22 L374.2,201.35 L374.3,201.41 L374.41,201.25 L374.51,201.29 L374.62,201.32 L374.72,201.11 L374.82,201.13 L374.93,201.23 L375.03,201.3 L375.13,201.15 L375.24,201 L375.34,201.14 L375.45,201.24 L375.55,201.26 L375.65,201.66 L375.76,201.8 L375.86,201.82 L375.97,202.11 L376.07,202.31 L376.17,202.44 L376.28,202.42 L376.38,202.66 L376.49,202.72 L376.59,202.66 L376.69,202.93 L376.8,203.15 L376.9,203.05 L377.01,203.12 L377.11,203.16 L377.21,203.67 L377.32,203.54 L377.42,203.75 L377.53,204.27 L377.63,204.65 L377.73,204.97 L377.84,205.06 L377.94,205.02 L378.05,205.22 L378.15,205.42 L378.25,205.73 L378.36,205.95 L378.46,206.29 L378.57,206.36 L378.67,206.57 L378.77,206.67 L378.88,206.46 L378.98,206.52 L379.08,206.82 L379.19,207.57 L379.29,207.59 L379.4,207.59 L379.5,208.1 L379.6,208.52 L379.71,208.53 L379.81,208.89 L379.92,209.15 L380.02,209.28 L380.12,209.72 L380.23,209.88 L380.33,209.66 L380.44,209.73 L380.54,209.57 L380.64,209.68 L380.75,209.65 L380.85,209.51 L380.96,209.25 L381.06,209.2 L381.16,209 L381.27,208.73 L381.37,208.26 L381.48,207.93 L381.58,207.83 L381.68,207.08 L381.79,206.28 L381.89,206.17 L382,205.2 L382.1,204.42 L382.2,203.55 L382.31,202.96 L382.41,202.18 L382.52,201.69 L382.62,201.26 L382.72,200.96 L382.83,200.39 L382.93,200.13 L383.04,200.16 L383.14,199.86 L383.24,199.5 L383.35,199.57 L383.45,199.42 L383.55,199.24 L383.66,199.26 L383.76,198.66 L383.87,198.09 L383.97,197.5 L384.07,197.05 L384.18,196.77 L384.28,196.49 L384.39,196.26 L384.49,196.01 L384.59,195.6 L384.7,195.03 L384.8,194.82 L384.91,194.59 L385.01,194.27 L385.11,194.22 L385.22,194.05 L385.32,193.58 L385.43,193.27 L385.53,192.71 L385.63,191.88 L385.74,191.97 L385.84,191.47 L385.95,191.27 L386.05,191.15 L386.15,190.73 L386.26,191.5 L386.36,191.25 L386.47,191.01 L386.57,190.77 L386.67,190.53 L386.78,190.3 L386.88,190.07 L386.99,189.84 L387.09,189.61 L387.19,189.39 L387.3,189.17 L387.4,188.95 L387.5,188.73 L387.61,188.51 L387.71,188.3 L387.82,188.09 L387.92,187.88 L388.02,187.67 L388.13,187.46 L388.23,187.26 L388.34,187.06 L388.44,186.85 L388.54,186.65 L388.65,186.45 L388.75,186.26 L388.86,186.06 L388.96,185.86 L389.06,185.67 L389.17,185.47 L389.27,185.28 L389.38,185.09 L389.48,184.89 L389.58,184.7 L389.69,184.51 L389.79,184.32 L389.9,184.13 L390,183.94 L390.1,183.75 L390.21,183.56 L390.31,183.37 L390.42,183.19 L390.52,183 L390.62,182.81 L390.73,182.62 L390.83,182.43 L390.94,182.24 L391.04,182.05 L391.14,181.86 L391.25,181.67 L391.35,181.48 L391.45,181.28 L391.56,181.09 L391.66,180.9 L391.77,180.71 L391.87,180.51 L391.97,180.32 L392.08,180.11 L392.18,179.91 L392.29,179.7 L392.39,179.49 L392.49,179.28 L392.6,179.07 L392.7,178.86 L392.81,178.64 L392.91,178.42 L393.01,178.2 L393.12,177.98 L393.22,177.76 L393.33,177.53 L393.43,177.3 L393.53,177.07 L393.64,176.84 L393.74,176.61 L393.85,176.37 L393.95,176.14 L394.05,175.9 L394.16,175.66 L394.26,175.41 L394.37,175.17 L394.47,174.92 L394.57,174.67 L394.68,174.53 L394.78,174.39 L394.89,174.25 L394.99,174.11 L395.09,173.97 L395.2,173.84 L395.3,173.7 L395.41,173.56 L395.51,173.42 L395.61,173.28 L395.72,173.14 L395.82,172.99 L395.92,172.85 L396.03,172.71 L396.13,172.57 L396.24,172.43 L396.34,172.29 L396.44,172.15 L396.55,172.01 L396.65,171.87 L396.76,171.75 L396.86,171.64 L396.96,171.52 L397.07,171.4 L397.17,171.29 L397.28,171.17 L397.38,171.06 L397.48,170.94 L397.59,170.83 L397.69,170.71 L397.8,170.6 L397.9,170.48 L398,170.36 L398.11,170.25 L398.21,170.13 L398.32,169.85 L398.42,169.57 L398.52,169.28 L398.63,168.99 L398.73,168.7 L398.84,168.41 L398.94,168.11 L399.04,167.82 L399.15,167.52 L399.25,167.22 L399.36,166.92 L399.46,166.62 L399.56,165.63 L399.67,164.62 L399.77,163.6 L399.87,162.57 L399.98,161.52 L400.08,160.47 L400.19,159.41 L400.29,158.35 L400.39,157.03 L400.5,155.7 L400.6,154.37 L400.71,153.04 L400.81,151.7 L400.91,150.63 L401.02,149.56 L401.12,148.48 L401.23,147.41 L401.33,146.33 L401.43,145.52 L401.54,144.71 L401.64,143.9 L401.75,143.1 L401.85,142.29 L401.95,143.1 L402.06,143.9 L402.16,144.71 L402.27,145.52 L402.37,146.33 L402.47,147.41 L402.58,148.48 L402.68,149.56 L402.79,150.63 L402.89,151.7 L402.99,153.04 L403.1,154.37 L403.2,155.7 L403.31,157.03 L403.41,158.35 L403.51,159.41 L403.62,160.47 L403.72,161.52 L403.83,162.57 L403.93,163.6 L404.03,164.62 L404.14,165.63 L404.24,166.62 L404.34,166.92 L404.45,167.22 L404.55,167.52 L404.66,167.82 L404.76,168.11 L404.86,168.41 L404.97,168.7 L405.07,168.99 L405.18,169.28 L405.28,169.57 L405.38,169.85 L405.49,170.13 L405.59,170.25 L405.7,170.36 L405.8,170.48 L405.9,170.6 L406.01,170.71 L406.11,170.83 L406.22,170.94 L406.32,171.06 L406.42,171.17 L406.53,171.29 L406.63,171.4 L406.74,171.52 L406.84,171.64 L406.94,171.75 L407.05,171.87 L407.15,172.01 L407.26,172.15 L407.36,172.29 L407.46,172.43 L407.57,172.57 L407.67,172.71 L407.78,172.85 L407.88,172.99 L407.98,173.14 L408.09,173.28 L408.19,173.42 L408.29,173.56 L408.4,173.7 L408.5,173.84 L408.61,173.97 L408.71,174.11 L408.81,174.25 L408.92,174.39 L409.02,174.53 L409.13,174.67 L409.23,174.92 L409.33,175.17 L409.44,175.41 L409.54,175.66 L409.65,175.9 L409.75,176.14 L409.85,176.37 L409.96,176.61 L410.06,176.84 L410.17,177.07 L410.27,177.3 L410.37,177.53 L410.48,177.76 L410.58,177.98 L410.69,178.2 L410.79,178.42 L410.89,178.64 L411,178.86 L411.1,179.07 L411.21,179.28 L411.31,179.49 L411.41,179.7 L411.52,179.91 L411.62,180.11 L411.73,180.32 L411.83,180.51 L411.93,180.71 L412.04,180.9 L412.14,181.09 L412.25,181.28 L412.35,181.48 L412.45,181.67 L412.56,181.86 L412.66,182.05 L412.76,182.24 L412.87,182.43 L412.97,182.62 L413.08,182.81 L413.18,183 L413.28,183.19 L413.39,183.37 L413.49,183.56 L413.6,183.75 L413.7,183.94 L413.8,184.13 L413.91,184.32 L414.01,184.51 L414.12,184.7 L414.22,184.89 L414.32,185.09 L414.43,185.28 L414.53,185.47 L414.64,185.67 L414.74,185.86 L414.84,186.06 L414.95,186.26 L415.05,186.45 L415.16,186.65 L415.26,186.85 L415.36,187.06 L415.47,187.26 L415.57,187.46 L415.68,187.67 L415.78,187.88 L415.88,188.09 L415.99,188.3 L416.09,188.51 L416.2,188.73 L416.3,188.95 L416.4,189.17 L416.51,189.39 L416.61,189.61 L416.71,189.84 L416.82,190.07 L416.92,190.3 L417.03,190.53 L417.13,190.77 L417.23,191.01 L417.34,191.25 L417.44,191.5 L417.55,192.38 L417.65,192.73 L417.75,192.84 L417.86,193.06 L417.96,193.21 L418.07,193.42 L418.17,193.68 L418.27,193.98 L418.38,194.34 L418.48,194.26 L418.59,194.67 L418.69,195.46 L418.79,195.69 L418.9,195.94 L419,196.3 L419.11,196.68 L419.21,197.05 L419.31,196.97 L419.42,197.47 L419.52,197.74 L419.63,197.95 L419.73,198.56 L419.83,198.43 L419.94,198.53 L420.04,198.72 L420.15,198.84 L420.25,199.23 L420.35,199.5 L420.46,199.76 L420.56,200.62 L420.66,201.17 L420.77,201.32 L420.87,201.52 L420.98,202.08 L421.08,202.74 L421.18,202.96 L421.29,203.35 L421.39,204 L421.5,204.69 L421.6,205.14 L421.7,205.57 L421.81,206.24 L421.91,206.26 L422.02,206.52 L422.12,207.07 L422.22,207.36 L422.33,207.67 L422.43,208 L422.54,208.68 L422.64,209.04 L422.74,208.82 L422.85,208.97 L422.95,209.32 L423.06,209.5 L423.16,209.49 L423.26,209.76 L423.37,209.85 L423.47,209.82 L423.58,209.8 L423.68,209.86 L423.78,209.78 L423.89,209.92 L423.99,210.02 L424.1,209.6 L424.2,209.41 L424.3,208.86 L424.41,208.65 L424.51,208.22 L424.62,208.01 L424.72,208.04 L424.82,207.77 L424.93,207.6 L425.03,207.29 L425.13,206.84 L425.24,206.48 L425.34,206.01 L425.45,206.27 L425.55,205.75 L425.65,205.69 L425.76,205.84 L425.86,205.6 L425.97,205.19 L426.07,205.16 L426.17,204.73 L426.28,204.68 L426.38,204.39 L426.49,204.35 L426.59,204.39 L426.69,204.25 L426.8,203.97 L426.9,203.83 L427.01,203.47 L427.11,202.86 L427.21,202.89 L427.32,202.95 L427.42,202.95 L427.53,202.72 L427.63,202.53 L427.73,202.61 L427.84,202.48 L427.94,202.26 L428.05,202.45 L428.15,202.54 L428.25,202.25 L428.36,202.72 L428.46,202.91 L428.57,202.74 L428.67,202.58 L428.77,202.31 L428.88,202.26 L428.98,201.95 L429.08,201.36 L429.19,201.56 L429.29,201.48 L429.4,201.19 L429.5,201.08 L429.6,200.75 L429.71,200.64 L429.81,200.3 L429.92,200.02 L430.02,199.71 L430.12,199.81 L430.23,199.69 L430.33,199.67 L430.44,199.55 L430.54,199.76 L430.64,199.58 L430.75,199.89 L430.85,199.89 L430.96,200.01 L431.06,200.01 L431.16,200.29 L431.27,200.68 L431.37,200.67 L431.48,200.85 L431.58,201.1 L431.68,201.05 L431.79,201.12 L431.89,200.86 L432,200.87 L432.1,200.85 L432.2,200.93 L432.31,200.76 L432.41,200.99 L432.52,200.77 L432.62,200.65 L432.72,200.41 L432.83,200.33 L432.93,200.32 L433.03,200.26 L433.14,200.36 L433.24,200.73 L433.35,200.34 L433.45,200.45 L433.55,200.34 L433.66,200.33 L433.76,200.35 L433.87,200.39 L433.97,200.48 L434.07,200.53 L434.18,200.78 L434.28,200.84 L434.39,200.64 L434.49,200.92 L434.59,201.07 L434.7,200.99 L434.8,201.16 L434.91,201.2 L435.01,201.61 L435.11,201.36 L435.22,201.49 L435.32,201.49 L435.43,201.62 L435.53,201.76 L435.63,201.86 L435.74,202.03 L435.84,202.03 L435.95,202.06 L436.05,202.39 L436.15,202.5 L436.26,202.17 L436.36,202.45 L436.47,202.6 L436.57,202.82 L436.67,203.23 L436.78,203.71 L436.88,203.69 L436.99,203.68 L437.09,203.85 L437.19,203.89 L437.3,203.75 L437.4,203.82 L437.5,204.13 L437.61,204.72 L437.71,204.68 L437.82,205.18 L437.92,205.22 L438.02,205.05 L438.13,205.57 L438.23,205.91 L438.34,205.89 L438.44,206.26 L438.54,206.61 L438.65,206.86 L438.75,207.03 L438.86,206.83 L438.96,206.57 L439.06,206.73 L439.17,206.99 L439.27,206.96 L439.38,207.33 L439.48,207.4 L439.58,207.72 L439.69,208 L439.79,208.17 L439.9,208.47 L440,208.53 L440.1,208.92 L440.21,209.23 L440.31,209.46 L440.42,209.99 L440.52,210.37 L440.62,210.63 L440.73,210.51 L440.83,210.58 L440.94,210.78 L441.04,211.09 L441.14,211.43 L441.25,211.8 L441.35,212.5 L441.45,212.93 L441.56,213.36 L441.66,213.58 L441.77,214.02 L441.87,214.16 L441.97,214.89 L442.08,215.2 L442.18,215.91 L442.29,216.47 L442.39,216.52 L442.49,217.06 L442.6,217.78 L442.7,218.05 L442.81,218.81 L442.91,219.17 L443.01,219.51 L443.12,219.59 L443.22,220.52 L443.33,221.02 L443.43,221.47 L443.53,221.79 L443.64,222.09 L443.74,222.49 L443.85,222.77 L443.95,222.86 L444.05,222.93 L444.16,222.52 L444.26,222.91 L444.37,223.01 L444.47,222.52 L444.57,222.17 L444.68,221.84 L444.78,221.7 L444.89,221.55 L444.99,221.32 L445.09,220.65 L445.2,220.18 L445.3,220.06 L445.41,219.69 L445.51,219.32 L445.61,219.26 L445.72,218.57 L445.82,218.1 L445.92,217.39 L446.03,216.81 L446.13,216.12 L446.24,215.55 L446.34,215.18 L446.44,215.02 L446.55,214.74 L446.65,214.08 L446.76,214 L446.86,213.73 L446.96,213.25 L447.07,212.79 L447.17,212.6 L447.28,212.65 L447.38,212.56 L447.48,212.58 L447.59,212.28 L447.69,211.99 L447.8,211.66 L447.9,211.58 L448,211.08 L448.11,210.64 L448.21,210.59 L448.32,210.83 L448.42,210.8 L448.52,210.81 L448.63,210.82 L448.73,210.6 L448.84,209.83 L448.94,209.7 L449.04,209.5 L449.15,209.15 L449.25,209.04 L449.36,209.37 L449.46,208.84 L449.56,208.67 L449.67,208.51 L449.77,208.49 L449.87,208.19 L449.98,207.94 L450.08,207.71 L450.19,207.9 L450.29,207.75 L450.39,207.96 L450.5,208 L450.6,207.4 L450.71,207.28 L450.81,207.82 L450.91,207.44 L451.02,207.55 L451.12,207.22 L451.23,207.16 L451.33,207.31 L451.43,207.44 L451.54,207.17 L451.64,207.06 L451.75,206.83 L451.85,207.06 L451.95,207.11 L452.06,206.94 L452.16,206.68 L452.27,206.24 L452.37,206.25 L452.47,205.99 L452.58,205.66 L452.68,205.93 L452.79,205.77 L452.89,205.97 L452.99,205.74 L453.1,205.69 L453.2,205.65 L453.31,205.49 L453.41,205.57 L453.51,205.8 L453.62,206.19 L453.72,206.52 L453.82,206.84 L453.93,207.02 L454.03,206.65 L454.14,206.6 L454.24,206.74 L454.34,206.84 L454.45,207.21 L454.55,207.35 L454.66,207.63 L454.76,207.78 L454.86,207.74 L454.97,207.74 L455.07,207.33 L455.18,207.45 L455.28,207.66 L455.38,207.99 L455.49,207.88 L455.59,207.8 L455.7,207.66 L455.8,207.35 L455.9,207.26 L456.01,207.04 L456.11,207.24 L456.22,207.41 L456.32,207.46 L456.42,207.55 L456.53,207.75 L456.63,207.37 L456.74,207.41 L456.84,207.46 L456.94,207.84 L457.05,208.1 L457.15,208.01 L457.26,207.81 L457.36,207.68 L457.46,207.98 L457.57,208.39 L457.67,208.42 L457.78,208.17 L457.88,208.35 L457.98,208.42 L458.09,208.5 L458.19,208.69 L458.29,208.55 L458.4,208.77 L458.5,209.4 L458.61,209.75 L458.71,209.86 L458.81,209.37 L458.92,209.38 L459.02,209.99 L459.13,210.01 L459.23,210.17 L459.33,210.41 L459.44,210.63 L459.54,210.85 L459.65,211.05 L459.75,211.16 L459.85,211.15 L459.96,211.36 L460.06,211.74 L460.17,212.16 L460.27,212.33 L460.37,212.32 L460.48,212.57 L460.58,213 L460.69,212.96 L460.79,213.18 L460.89,213.54 L461,214.09 L461.1,214.26 L461.21,214.39 L461.31,214.41 L461.41,214.64 L461.52,214.87 L461.62,215.23 L461.73,215.92 L461.83,216.47 L461.93,216.61 L462.04,216.87 L462.14,216.91 L462.24,217.17 L462.35,217.36 L462.45,217.43 L462.56,217.87 L462.66,218.26 L462.76,218.52 L462.87,219.04 L462.97,219.15 L463.08,219.36 L463.18,219.61 L463.28,220.17 L463.39,220.8 L463.49,221.33 L463.6,221.71 L463.7,222.3 L463.8,222.83 L463.91,223.57 L464.01,224.37 L464.12,224.96 L464.22,225.49 L464.32,226.04 L464.43,226.31 L464.53,226.95 L464.64,227.24 L464.74,227.54 L464.84,228.09 L464.95,228.05 L465.05,228.48 L465.16,228.57 L465.26,228.32 L465.36,228.04 L465.47,227.87 L465.57,227.85 L465.68,227.39 L465.78,226.88 L465.88,226.61 L465.99,226.09 L466.09,225.5 L466.2,225.2 L466.3,225.12 L466.4,224.38 L466.51,223.96 L466.61,223.72 L466.71,223.44 L466.82,222.63 L466.92,222 L467.03,221.66 L467.13,221.22 L467.23,221.06 L467.34,220.37 L467.44,219.98 L467.55,219.55 L467.65,219.14 L467.75,219.02 L467.86,218.69 L467.96,218.2 L468.07,217.94 L468.17,218.02 L468.27,217.8 L468.38,217.25 L468.48,216.74 L468.59,216.51 L468.69,216.69 L468.79,216.43 L468.9,216.41 L469,216.25 L469.11,215.89 L469.21,215.65 L469.31,215.1 L469.42,215.19 L469.52,215.2 L469.63,215.56 L469.73,215.73 L469.83,215.5 L469.94,215.55 L470.04,215.59 L470.15,215.25 L470.25,214.91 L470.35,214.56 L470.46,214.4 L470.56,214.48 L470.66,214.4 L470.77,214.1 L470.87,213.7 L470.98,213.46 L471.08,213.42 L471.18,213.34 L471.29,212.89 L471.39,212.62 L471.5,212.31 L471.6,212.13 L471.7,212.02 L471.81,212.11 L471.91,211.94 L472.02,211.61 L472.12,211.42 L472.22,211.32 L472.33,211.23 L472.43,211.09 L472.54,211.1 L472.64,211.15 L472.74,210.99 L472.85,211.05 L472.95,211.11 L473.06,210.84 L473.16,210.57 L473.26,210.49 L473.37,210.71 L473.47,210.43 L473.58,210.46 L473.68,210.69 L473.78,210.66 L473.89,210.68 L473.99,210.53 L474.1,211.02 L474.2,211.05 L474.3,211.3 L474.41,211.06 L474.51,211.58 L474.62,211.56 L474.72,211.6 L474.82,211.66 L474.93,211.26 L475.03,211.29 L475.13,211.26 L475.24,211.47 L475.34,211.19 L475.45,211.17 L475.55,210.96 L475.65,211.02 L475.76,210.87 L475.86,211.15 L475.97,210.94 L476.07,210.75 L476.17,210.94 L476.28,211.13 L476.38,211.17 L476.49,210.73 L476.59,211.1 L476.69,210.84 L476.8,210.79 L476.9,210.69 L477.01,210.7 L477.11,211 L477.21,210.93 L477.32,211.09 L477.42,211.28 L477.53,211.35 L477.63,211.21 L477.73,211.23 L477.84,211.38 L477.94,211.65 L478.05,211.46 L478.15,211.76 L478.25,211.9 L478.36,211.64 L478.46,211.52 L478.57,211.55 L478.67,211.91 L478.77,211.79 L478.88,212.21 L478.98,212.54 L479.08,212.36 L479.19,212.28 L479.29,212.58 L479.4,212.6 L479.5,212.54 L479.6,212.64 L479.71,213.01 L479.81,212.93 L479.92,213.1 L480.02,213.24 L480.12,213.42 L480.23,213.44 L480.33,213.59 L480.44,214.23 L480.54,214.67 L480.64,215.03 L480.75,215.24 L480.85,215.42 L480.96,215.59 L481.06,215.61 L481.16,216.24 L481.27,216.14 L481.37,216.09 L481.48,216.1 L481.58,216.46 L481.68,216.59 L481.79,216.46 L481.89,216.94 L482,216.84 L482.1,217.19 L482.2,217.4 L482.31,217.39 L482.41,217.78 L482.52,218.06 L482.62,218.36 L482.72,219.04 L482.83,219.49 L482.93,219.67 L483.03,220.13 L483.14,220.64 L483.24,220.81 L483.35,221.11 L483.45,221.38 L483.55,221.92 L483.66,222.49 L483.76,222.7 L483.87,223.2 L483.97,223.58 L484.07,223.79 L484.18,224.07 L484.28,224.53 L484.39,224.83 L484.49,224.82 L484.59,225.44 L484.7,225.66 L484.8,226.33 L484.91,226.8 L485.01,227.39 L485.11,227.46 L485.22,227.74 L485.32,228.2 L485.43,228.46 L485.53,228.99 L485.63,229.65 L485.74,230 L485.84,230.4 L485.95,230.8 L486.05,230.87 L486.15,230.69 L486.26,230.86 L486.36,230.98 L486.47,231.21 L486.57,231.33 L486.67,231.07 L486.78,230.98 L486.88,230.62 L486.99,230.1 L487.09,229.63 L487.19,229.43 L487.3,229.1 L487.4,228.62 L487.5,228.7 L487.61,227.86 L487.71,227.5 L487.82,227.06 L487.92,226.45 L488.02,226.46 L488.13,226.26 L488.23,225.53 L488.34,225.08 L488.44,224.85 L488.54,224.32 L488.65,223.84 L488.75,223.5 L488.86,222.81 L488.96,222.42 L489.06,222.04 L489.17,221.3 L489.27,220.91 L489.38,220.38 L489.48,220.26 L489.58,219.92 L489.69,219.96 L489.79,220.01 L489.9,219.76 L490,219.63 L490.1,219.17 L490.21,219.15 L490.31,219.12 L490.42,219.09 L490.52,218.87 L490.62,218.82 L490.73,218.88 L490.83,218.77 L490.94,218.59 L491.04,218.21 L491.14,217.83 L491.25,217.47 L491.35,216.89 L491.45,216.99 L491.56,216.79 L491.66,216.38 L491.77,216.32 L491.87,216.35 L491.97,216.13 L492.08,215.96 L492.18,216.06 L492.29,216.11 L492.39,216.33 L492.49,216.65 L492.6,216.56 L492.7,216.62 L492.81,216.18 L492.91,216.05 L493.01,216.14 L493.12,216.07 L493.22,215.64 L493.33,215.51 L493.43,215.29 L493.53,214.91 L493.64,214.68 L493.74,214.58 L493.85,214.27 L493.95,214.07 L494.05,214.05 L494.16,214.05 L494.26,213.99 L494.37,214.12 L494.47,214.13 L494.57,214.06 L494.68,214.27 L494.78,214.21 L494.89,214.1 L494.99,213.57 L495.09,213.5 L495.2,213.52 L495.3,213.63 L495.4,213.67 L495.51,213.49 L495.61,213.65 L495.72,213.48 L495.82,213.35 L495.92,213.17 L496.03,213.16 L496.13,213.25 L496.24,213.4 L496.34,213.34 L496.44,213.22 L496.55,213.5 L496.65,213.62 L496.76,213.58 L496.86,213.65 L496.96,213.55 L497.07,213.5 L497.17,213.45 L497.28,213.55 L497.38,213.56 L497.48,213.28 L497.59,213.7 L497.69,214.03 L497.8,214.03 L497.9,213.91 L498,213.97 L498.11,214.02 L498.21,213.49 L498.32,213.7 L498.42,214.02 L498.52,214.26 L498.63,214.2 L498.73,214.43 L498.84,214.27 L498.94,214.21 L499.04,214.14 L499.15,213.74 L499.25,213.76 L499.36,214.09 L499.46,214.42 L499.56,214.96 L499.67,214.68 L499.77,214.74 L499.87,215.06 L499.98,215.29 L500.08,215.24 L500.19,215.32 L500.29,215.56 L500.39,215.94 L500.5,216.13 L500.6,216.13 L500.71,216.04 L500.81,216.02 L500.91,216.26 L501.02,216.32 L501.12,216.37 L501.23,216.03 L501.33,216.32 L501.43,216.36 L501.54,216.78 L501.64,217.07 L501.75,217.47 L501.85,217.16 L501.95,217.41 L502.06,217.7 L502.16,217.99 L502.27,218.06 L502.37,218.05 L502.47,218.54 L502.58,218.62 L502.68,219.06 L502.79,218.94 L502.89,219.3 L502.99,219.5 L503.1,219.65 L503.2,219.58 L503.31,219.97 L503.41,220.05 L503.51,220.06 L503.62,220.39 L503.72,220.73 L503.82,220.87 L503.93,221.22 L504.03,221.42 L504.14,221.69 L504.24,221.8 L504.34,221.99 L504.45,222.8 L504.55,223.57 L504.66,223.79 L504.76,224.45 L504.86,224.77 L504.97,225.13 L505.07,225.46 L505.18,226.05 L505.28,226.59 L505.38,227.12 L505.49,227.76 L505.59,228.28 L505.7,228.64 L505.8,228.98 L505.8,228.98" stroke="#c8102e" stroke-width="1.35" fill="none" stroke-linejoin="round"/>
<path d="M297.9,225.5 L298,225.05 L298.11,224.62 L298.21,224.19 L298.32,223.77 L298.42,223.36 L298.52,222.96 L298.63,222.57 L298.73,222.18 L298.84,221.81 L298.94,221.45 L299.04,221.1 L299.15,220.75 L299.25,220.42 L299.36,220.09 L299.46,219.77 L299.56,219.46 L299.67,219.16 L299.77,218.87 L299.88,218.59 L299.98,218.31 L300.08,218.04 L300.19,217.77 L300.29,217.52 L300.39,217.27 L300.5,217.03 L300.6,216.79 L300.71,216.56 L300.81,216.34 L300.91,216.12 L301.02,215.91 L301.12,215.7 L301.23,215.5 L301.33,215.3 L301.43,215.11 L301.54,214.92 L301.64,214.74 L301.75,214.57 L301.85,214.39 L301.95,214.23 L302.06,214.06 L302.16,213.91 L302.27,213.75 L302.37,213.6 L302.47,213.46 L302.58,213.31 L302.68,213.18 L302.79,213.04 L302.89,212.91 L302.99,212.78 L303.1,212.66 L303.2,212.54 L303.31,212.43 L303.41,212.31 L303.51,212.2 L303.62,212.1 L303.72,212 L303.83,211.9 L303.93,211.8 L304.03,211.71 L304.14,211.62 L304.24,211.53 L304.34,211.45 L304.45,211.37 L304.55,211.29 L304.66,211.22 L304.76,211.15 L304.86,211.08 L304.97,211.02 L305.07,210.95 L305.18,210.9 L305.28,210.84 L305.38,210.79 L305.49,210.73 L305.59,210.69 L305.7,210.64 L305.8,210.6 L305.9,210.56 L306.01,210.52 L306.11,210.49 L306.22,210.46 L306.32,210.43 L306.42,210.4 L306.53,210.38 L306.63,210.36 L306.74,210.34 L306.84,210.32 L306.94,210.31 L307.05,210.3 L307.15,210.29 L307.26,210.29 L307.36,210.29 L307.46,210.29 L307.57,210.29 L307.67,210.3 L307.78,210.31 L307.88,210.32 L307.98,210.33 L308.09,210.35 L308.19,210.37 L308.29,210.39 L308.4,210.42 L308.5,210.45 L308.61,210.48 L308.71,210.51 L308.81,210.55 L308.92,210.59 L309.02,210.63 L309.13,210.68 L309.23,210.73 L309.33,210.78 L309.44,210.84 L309.54,210.89 L309.65,210.96 L309.75,211.02 L309.85,211.09 L309.96,211.16 L310.06,211.23 L310.17,211.31 L310.27,211.39 L310.37,211.47 L310.48,211.56 L310.58,211.65 L310.69,211.75 L310.79,211.85 L310.89,211.95 L311,212.05 L311.1,212.16 L311.21,212.28 L311.31,212.39 L311.41,212.52 L311.52,212.64 L311.62,212.77 L311.73,212.91 L311.83,213.05 L311.93,213.19 L312.04,213.34 L312.14,213.49 L312.25,213.65 L312.35,213.81 L312.45,213.98 L312.56,214.15 L312.66,214.33 L312.76,214.51 L312.87,214.7 L312.97,214.9 L313.08,215.1 L313.18,215.31 L313.28,215.52 L313.39,215.74 L313.49,215.97 L313.6,216.21 L313.7,216.45 L313.8,216.7 L313.91,216.96 L314.01,217.22 L314.12,217.5 L314.22,217.78 L314.32,218.07 L314.43,218.37 L314.53,218.68 L314.64,219 L314.74,219.33 L314.84,219.67 L314.95,220.02 L315.05,220.38 L315.16,220.76 L315.26,221.14 L315.36,221.54 L315.47,221.94 L315.57,222.36 L315.68,222.79 L315.78,223.23 L315.88,223.68 L315.99,224.14 L316.09,224.61 L316.2,225.08 L316.3,225.55 L316.4,226.02 L316.51,226.48 L316.61,226.93 L316.71,227.36 L316.82,227.76 L316.92,228.13 L317.03,228.44 L317.13,228.7 L317.23,228.89 L317.34,229 L317.44,229.03 L317.55,228.98 L317.65,228.85 L317.75,228.64 L317.86,228.36 L317.96,228.03 L318.07,227.64 L318.17,227.21 L318.27,226.76 L318.38,226.28 L318.48,225.79 L318.59,225.29 L318.69,224.79 L318.79,224.29 L318.9,223.8 L319,223.31 L319.11,222.83 L319.21,222.36 L319.31,221.9 L319.42,221.45 L319.52,221.02 L319.63,220.59 L319.73,220.18 L319.83,219.77 L319.94,219.38 L320.04,219 L320.15,218.63 L320.25,218.27 L320.35,217.92 L320.46,217.58 L320.56,217.25 L320.67,216.93 L320.77,216.62 L320.87,216.31 L320.98,216.02 L321.08,215.73 L321.18,215.45 L321.29,215.18 L321.39,214.91 L321.5,214.66 L321.6,214.41 L321.7,214.16 L321.81,213.93 L321.91,213.69 L322.02,213.47 L322.12,213.25 L322.22,213.04 L322.33,212.83 L322.43,212.63 L322.54,212.43 L322.64,212.24 L322.74,212.05 L322.85,211.87 L322.95,211.69 L323.06,211.52 L323.16,211.35 L323.26,211.19 L323.37,211.03 L323.47,210.87 L323.58,210.72 L323.68,210.58 L323.78,210.43 L323.89,210.29 L323.99,210.16 L324.1,210.03 L324.2,209.9 L324.3,209.78 L324.41,209.66 L324.51,209.54 L324.62,209.43 L324.72,209.32 L324.82,209.21 L324.93,209.11 L325.03,209.01 L325.13,208.91 L325.24,208.82 L325.34,208.73 L325.45,208.64 L325.55,208.56 L325.65,208.48 L325.76,208.4 L325.86,208.32 L325.97,208.25 L326.07,208.18 L326.17,208.12 L326.28,208.05 L326.38,207.99 L326.49,207.94 L326.59,207.88 L326.69,207.83 L326.8,207.78 L326.9,207.73 L327.01,207.69 L327.11,207.65 L327.21,207.61 L327.32,207.58 L327.42,207.54 L327.53,207.51 L327.63,207.49 L327.73,207.46 L327.84,207.44 L327.94,207.42 L328.05,207.41 L328.15,207.39 L328.25,207.38 L328.36,207.37 L328.46,207.37 L328.57,207.37 L328.67,207.37 L328.77,207.37 L328.88,207.37 L328.98,207.38 L329.08,207.39 L329.19,207.41 L329.29,207.42 L329.4,207.44 L329.5,207.47 L329.6,207.49 L329.71,207.52 L329.81,207.55 L329.92,207.58 L330.02,207.62 L330.12,207.66 L330.23,207.7 L330.33,207.75 L330.44,207.8 L330.54,207.85 L330.64,207.9 L330.75,207.96 L330.85,208.02 L330.96,208.09 L331.06,208.15 L331.16,208.22 L331.27,208.3 L331.37,208.38 L331.48,208.46 L331.58,208.54 L331.68,208.63 L331.79,208.72 L331.89,208.82 L332,208.92 L332.1,209.02 L332.2,209.13 L332.31,209.24 L332.41,209.35 L332.52,209.47 L332.62,209.6 L332.72,209.72 L332.83,209.86 L332.93,209.99 L333.04,210.14 L333.14,210.28 L333.24,210.43 L333.35,210.59 L333.45,210.75 L333.55,210.92 L333.66,211.09 L333.76,211.27 L333.87,211.45 L333.97,211.64 L334.07,211.84 L334.18,212.04 L334.28,212.25 L334.39,212.46 L334.49,212.68 L334.59,212.91 L334.7,213.15 L334.8,213.4 L334.91,213.65 L335.01,213.91 L335.11,214.18 L335.22,214.46 L335.32,214.75 L335.43,215.05 L335.53,215.35 L335.63,215.67 L335.74,216 L335.84,216.35 L335.95,216.7 L336.05,217.07 L336.15,217.44 L336.26,217.84 L336.36,218.24 L336.47,218.66 L336.57,219.1 L336.67,219.55 L336.78,220.01 L336.88,220.49 L336.99,220.99 L337.09,221.49 L337.19,222.02 L337.3,222.55 L337.4,223.09 L337.5,223.64 L337.61,224.19 L337.71,224.73 L337.82,225.25 L337.92,225.75 L338.02,226.21 L338.13,226.62 L338.23,226.96 L338.34,227.21 L338.44,227.37 L338.54,227.41 L338.65,227.33 L338.75,227.14 L338.86,226.85 L338.96,226.48 L339.06,226.03 L339.17,225.53 L339.27,225 L339.38,224.43 L339.48,223.85 L339.58,223.27 L339.69,222.68 L339.79,222.1 L339.9,221.53 L340,220.97 L340.1,220.42 L340.21,219.89 L340.31,219.37 L340.42,218.87 L340.52,218.38 L340.62,217.91 L340.73,217.45 L340.83,217 L340.94,216.57 L341.04,216.15 L341.14,215.75 L341.25,215.36 L341.35,214.98 L341.46,214.61 L341.56,214.25 L341.66,213.9 L341.77,213.56 L341.87,213.24 L341.97,212.92 L342.08,212.61 L342.18,212.31 L342.29,212.02 L342.39,211.73 L342.49,211.46 L342.6,211.19 L342.7,210.93 L342.81,210.68 L342.91,210.43 L343.01,210.19 L343.12,209.95 L343.22,209.72 L343.33,209.5 L343.43,209.29 L343.53,209.07 L343.64,208.87 L343.74,208.67 L343.85,208.47 L343.95,208.28 L344.05,208.1 L344.16,207.92 L344.26,207.74 L344.37,207.57 L344.47,207.4 L344.57,207.24 L344.68,207.08 L344.78,206.93 L344.89,206.78 L344.99,206.63 L345.09,206.49 L345.2,206.35 L345.3,206.22 L345.41,206.09 L345.51,205.96 L345.61,205.84 L345.72,205.72 L345.82,205.6 L345.92,205.49 L346.03,205.38 L346.13,205.27 L346.24,205.17 L346.34,205.07 L346.44,204.97 L346.55,204.88 L346.65,204.79 L346.76,204.7 L346.86,204.61 L346.96,204.53 L347.07,204.45 L347.17,204.38 L347.28,204.3 L347.38,204.23 L347.48,204.17 L347.59,204.1 L347.69,204.04 L347.8,203.98 L347.9,203.93 L348,203.87 L348.11,203.82 L348.21,203.78 L348.32,203.73 L348.42,203.69 L348.52,203.65 L348.63,203.61 L348.73,203.58 L348.84,203.55 L348.94,203.52 L349.04,203.49 L349.15,203.47 L349.25,203.45 L349.36,203.43 L349.46,203.42 L349.56,203.41 L349.67,203.4 L349.77,203.39 L349.88,203.38 L349.98,203.38 L350.08,203.38 L350.19,203.39 L350.29,203.4 L350.39,203.4 L350.5,203.42 L350.6,203.43 L350.71,203.45 L350.81,203.47 L350.91,203.49 L351.02,203.52 L351.12,203.55 L351.23,203.58 L351.33,203.62 L351.43,203.66 L351.54,203.7 L351.64,203.74 L351.75,203.79 L351.85,203.84 L351.95,203.89 L352.06,203.95 L352.16,204.01 L352.27,204.07 L352.37,204.14 L352.47,204.21 L352.58,204.29 L352.68,204.36 L352.79,204.44 L352.89,204.53 L352.99,204.62 L353.1,204.71 L353.2,204.8 L353.31,204.9 L353.41,205 L353.51,205.11 L353.62,205.22 L353.72,205.34 L353.83,205.46 L353.93,205.58 L354.03,205.71 L354.14,205.85 L354.24,205.98 L354.34,206.13 L354.45,206.28 L354.55,206.43 L354.66,206.59 L354.76,206.75 L354.86,206.92 L354.97,207.1 L355.07,207.28 L355.18,207.46 L355.28,207.66 L355.38,207.86 L355.49,208.06 L355.59,208.28 L355.7,208.5 L355.8,208.73 L355.9,208.96 L356.01,209.21 L356.11,209.46 L356.22,209.72 L356.32,209.99 L356.42,210.27 L356.53,210.56 L356.63,210.86 L356.74,211.17 L356.84,211.49 L356.94,211.82 L357.05,212.16 L357.15,212.52 L357.26,212.88 L357.36,213.26 L357.46,213.66 L357.57,214.07 L357.67,214.49 L357.78,214.93 L357.88,215.38 L357.98,215.84 L358.09,216.32 L358.19,216.82 L358.29,217.32 L358.4,217.84 L358.5,218.36 L358.61,218.88 L358.71,219.41 L358.81,219.93 L358.92,220.43 L359.02,220.9 L359.13,221.33 L359.23,221.71 L359.33,222.03 L359.44,222.25 L359.54,222.39 L359.65,222.41 L359.75,222.3 L359.85,222.09 L359.96,221.78 L360.06,221.39 L360.17,220.94 L360.27,220.43 L360.37,219.89 L360.48,219.33 L360.58,218.75 L360.69,218.17 L360.79,217.58 L360.89,217 L361,216.43 L361.1,215.87 L361.21,215.32 L361.31,214.79 L361.41,214.26 L361.52,213.76 L361.62,213.27 L361.73,212.79 L361.83,212.33 L361.93,211.88 L362.04,211.44 L362.14,211.02 L362.25,210.61 L362.35,210.21 L362.45,209.82 L362.56,209.44 L362.66,209.08 L362.76,208.72 L362.87,208.38 L362.97,208.04 L363.08,207.72 L363.18,207.4 L363.28,207.09 L363.39,206.79 L363.49,206.5 L363.6,206.21 L363.7,205.93 L363.8,205.66 L363.91,205.4 L364.01,205.14 L364.12,204.89 L364.22,204.65 L364.32,204.41 L364.43,204.17 L364.53,203.95 L364.64,203.72 L364.74,203.51 L364.84,203.3 L364.95,203.09 L365.05,202.89 L365.16,202.69 L365.26,202.5 L365.36,202.31 L365.47,202.13 L365.57,201.95 L365.68,201.78 L365.78,201.61 L365.88,201.44 L365.99,201.28 L366.09,201.12 L366.2,200.97 L366.3,200.82 L366.4,200.67 L366.51,200.53 L366.61,200.39 L366.71,200.25 L366.82,200.12 L366.92,199.99 L367.03,199.86 L367.13,199.74 L367.23,199.62 L367.34,199.5 L367.44,199.39 L367.55,199.28 L367.65,199.17 L367.75,199.07 L367.86,198.96 L367.96,198.87 L368.07,198.77 L368.17,198.68 L368.27,198.59 L368.38,198.5 L368.48,198.42 L368.59,198.33 L368.69,198.26 L368.79,198.18 L368.9,198.11 L369,198.04 L369.11,197.97 L369.21,197.9 L369.31,197.84 L369.42,197.78 L369.52,197.72 L369.63,197.67 L369.73,197.61 L369.83,197.57 L369.94,197.52 L370.04,197.47 L370.15,197.43 L370.25,197.39 L370.35,197.36 L370.46,197.32 L370.56,197.29 L370.66,197.26 L370.77,197.24 L370.87,197.21 L370.98,197.19 L371.08,197.17 L371.18,197.16 L371.29,197.14 L371.39,197.13 L371.5,197.12 L371.6,197.12 L371.7,197.12 L371.81,197.11 L371.91,197.12 L372.02,197.12 L372.12,197.13 L372.22,197.14 L372.33,197.15 L372.43,197.17 L372.54,197.19 L372.64,197.21 L372.74,197.24 L372.85,197.26 L372.95,197.3 L373.06,197.33 L373.16,197.37 L373.26,197.41 L373.37,197.45 L373.47,197.49 L373.58,197.54 L373.68,197.6 L373.78,197.65 L373.89,197.71 L373.99,197.77 L374.1,197.84 L374.2,197.91 L374.3,197.98 L374.41,198.05 L374.51,198.13 L374.62,198.22 L374.72,198.3 L374.82,198.4 L374.93,198.49 L375.03,198.59 L375.13,198.69 L375.24,198.8 L375.34,198.91 L375.45,199.03 L375.55,199.15 L375.65,199.27 L375.76,199.4 L375.86,199.54 L375.97,199.68 L376.07,199.82 L376.17,199.97 L376.28,200.12 L376.38,200.28 L376.49,200.45 L376.59,200.62 L376.69,200.8 L376.8,200.98 L376.9,201.17 L377.01,201.37 L377.11,201.57 L377.21,201.78 L377.32,202 L377.42,202.22 L377.53,202.45 L377.63,202.69 L377.73,202.93 L377.84,203.19 L377.94,203.45 L378.05,203.72 L378.15,203.99 L378.25,204.28 L378.36,204.57 L378.46,204.87 L378.57,205.18 L378.67,205.5 L378.77,205.82 L378.88,206.15 L378.98,206.49 L379.08,206.83 L379.19,207.17 L379.29,207.52 L379.4,207.87 L379.5,208.22 L379.6,208.56 L379.71,208.89 L379.81,209.21 L379.92,209.51 L380.02,209.79 L380.12,210.05 L380.23,210.27 L380.33,210.45 L380.44,210.58 L380.54,210.66 L380.64,210.69 L380.75,210.66 L380.85,210.61 L380.96,210.51 L381.06,210.35 L381.16,210.13 L381.27,209.87 L381.37,209.56 L381.48,209.21 L381.58,208.83 L381.68,208.42 L381.79,208 L381.89,207.56 L382,207.1 L382.1,206.64 L382.2,206.18 L382.31,205.72 L382.41,205.25 L382.52,204.79 L382.62,204.33 L382.72,203.88 L382.83,203.44 L382.93,203 L383.04,202.57 L383.14,202.15 L383.24,201.73 L383.35,201.32 L383.45,200.93 L383.55,200.53 L383.66,200.15 L383.76,199.78 L383.87,199.41 L383.97,199.05 L384.07,198.69 L384.18,198.35 L384.28,198.01 L384.39,197.68 L384.49,197.35 L384.59,197.03 L384.7,196.72 L384.8,196.41 L384.91,196.11 L385.01,195.82 L385.11,195.53 L385.22,195.25 L385.32,194.97 L385.43,194.69 L385.53,194.43 L385.63,194.16 L385.74,193.9 L385.84,193.65 L385.95,193.4 L386.05,193.15 L386.15,192.91 L386.26,192.68 L386.36,192.44 L386.47,192.21 L386.57,191.99 L386.67,191.77 L386.78,191.55 L386.88,191.33 L386.99,191.12 L387.09,190.92 L387.19,190.71 L387.3,190.51 L387.4,190.31 L387.5,190.12 L387.61,189.93 L387.71,189.74 L387.82,189.55 L387.92,189.37 L388.02,189.19 L388.13,189.01 L388.23,188.83 L388.34,188.66 L388.44,188.49 L388.54,188.32 L388.65,188.16 L388.75,187.99 L388.86,187.83 L388.96,187.68 L389.06,187.52 L389.17,187.37 L389.27,187.22 L389.38,187.07 L389.48,186.92 L389.58,186.77 L389.69,186.63 L389.79,186.49 L389.9,186.35 L390,186.21 L390.1,186.08 L390.21,185.95 L390.31,185.81 L390.42,185.68 L390.52,185.56 L390.62,185.43 L390.73,185.31 L390.83,185.18 L390.94,185.06 L391.04,184.94 L391.14,184.83 L391.25,184.71 L391.35,184.6 L391.45,184.49 L391.56,184.37 L391.66,184.27 L391.77,184.16 L391.87,184.05 L391.97,183.95 L392.08,183.84 L392.18,183.74 L392.29,183.64 L392.39,183.54 L392.49,183.45 L392.6,183.35 L392.7,183.26 L392.81,183.16 L392.91,183.07 L393.01,182.98 L393.12,182.89 L393.22,182.8 L393.33,182.72 L393.43,182.63 L393.53,182.55 L393.64,182.47 L393.74,182.38 L393.85,182.3 L393.95,182.23 L394.05,182.15 L394.16,182.07 L394.26,182 L394.37,181.92 L394.47,181.85 L394.57,181.78 L394.68,181.71 L394.78,181.64 L394.89,181.57 L394.99,181.51 L395.09,181.44 L395.2,181.38 L395.3,181.31 L395.41,181.25 L395.51,181.19 L395.61,181.13 L395.72,181.07 L395.82,181.01 L395.92,180.96 L396.03,180.9 L396.13,180.85 L396.24,180.79 L396.34,180.74 L396.44,180.69 L396.55,180.64 L396.65,180.59 L396.76,180.54 L396.86,180.5 L396.96,180.45 L397.07,180.41 L397.17,180.36 L397.28,180.32 L397.38,180.28 L397.48,180.24 L397.59,180.2 L397.69,180.16 L397.8,180.12 L397.9,180.08 L398,180.05 L398.11,180.01 L398.21,179.98 L398.32,179.95 L398.42,179.91 L398.52,179.88 L398.63,179.85 L398.73,179.82 L398.84,179.8 L398.94,179.77 L399.04,179.74 L399.15,179.72 L399.25,179.69 L399.36,179.67 L399.46,179.65 L399.56,179.63 L399.67,179.61 L399.77,179.59 L399.87,179.57 L399.98,179.55 L400.08,179.54 L400.19,179.52 L400.29,179.51 L400.39,179.49 L400.5,179.48 L400.6,179.47 L400.71,179.46 L400.81,179.45 L400.91,179.44 L401.02,179.43 L401.12,179.42 L401.23,179.42 L401.33,179.41 L401.43,179.41 L401.54,179.4 L401.64,179.4 L401.75,179.4 L401.85,179.4 L401.95,179.4 L402.06,179.4 L402.16,179.4 L402.27,179.41 L402.37,179.41 L402.47,179.42 L402.58,179.42 L402.68,179.43 L402.79,179.44 L402.89,179.45 L402.99,179.46 L403.1,179.47 L403.2,179.48 L403.31,179.49 L403.41,179.51 L403.51,179.52 L403.62,179.54 L403.72,179.55 L403.83,179.57 L403.93,179.59 L404.03,179.61 L404.14,179.63 L404.24,179.65 L404.34,179.67 L404.45,179.69 L404.55,179.72 L404.66,179.74 L404.76,179.77 L404.86,179.8 L404.97,179.82 L405.07,179.85 L405.18,179.88 L405.28,179.91 L405.38,179.95 L405.49,179.98 L405.59,180.01 L405.7,180.05 L405.8,180.08 L405.9,180.12 L406.01,180.16 L406.11,180.2 L406.22,180.24 L406.32,180.28 L406.42,180.32 L406.53,180.36 L406.63,180.41 L406.74,180.45 L406.84,180.5 L406.94,180.54 L407.05,180.59 L407.15,180.64 L407.26,180.69 L407.36,180.74 L407.46,180.79 L407.57,180.85 L407.67,180.9 L407.78,180.96 L407.88,181.01 L407.98,181.07 L408.09,181.13 L408.19,181.19 L408.29,181.25 L408.4,181.31 L408.5,181.38 L408.61,181.44 L408.71,181.51 L408.81,181.57 L408.92,181.64 L409.02,181.71 L409.13,181.78 L409.23,181.85 L409.33,181.92 L409.44,182 L409.54,182.07 L409.65,182.15 L409.75,182.23 L409.85,182.3 L409.96,182.38 L410.06,182.47 L410.17,182.55 L410.27,182.63 L410.37,182.72 L410.48,182.8 L410.58,182.89 L410.69,182.98 L410.79,183.07 L410.89,183.16 L411,183.26 L411.1,183.35 L411.21,183.45 L411.31,183.54 L411.41,183.64 L411.52,183.74 L411.62,183.84 L411.73,183.95 L411.83,184.05 L411.93,184.16 L412.04,184.27 L412.14,184.37 L412.25,184.49 L412.35,184.6 L412.45,184.71 L412.56,184.83 L412.66,184.94 L412.76,185.06 L412.87,185.18 L412.97,185.31 L413.08,185.43 L413.18,185.56 L413.28,185.68 L413.39,185.81 L413.49,185.95 L413.6,186.08 L413.7,186.21 L413.8,186.35 L413.91,186.49 L414.01,186.63 L414.12,186.77 L414.22,186.92 L414.32,187.07 L414.43,187.22 L414.53,187.37 L414.64,187.52 L414.74,187.68 L414.84,187.83 L414.95,187.99 L415.05,188.16 L415.16,188.32 L415.26,188.49 L415.36,188.66 L415.47,188.83 L415.57,189.01 L415.68,189.19 L415.78,189.37 L415.88,189.55 L415.99,189.74 L416.09,189.93 L416.2,190.12 L416.3,190.31 L416.4,190.51 L416.51,190.71 L416.61,190.92 L416.71,191.12 L416.82,191.33 L416.92,191.55 L417.03,191.77 L417.13,191.99 L417.23,192.21 L417.34,192.44 L417.44,192.68 L417.55,192.91 L417.65,193.15 L417.75,193.4 L417.86,193.65 L417.96,193.9 L418.07,194.16 L418.17,194.43 L418.27,194.69 L418.38,194.97 L418.48,195.25 L418.59,195.53 L418.69,195.82 L418.79,196.11 L418.9,196.41 L419,196.72 L419.11,197.03 L419.21,197.35 L419.31,197.68 L419.42,198.01 L419.52,198.35 L419.63,198.69 L419.73,199.05 L419.83,199.41 L419.94,199.78 L420.04,200.15 L420.15,200.53 L420.25,200.93 L420.35,201.32 L420.46,201.73 L420.56,202.15 L420.66,202.57 L420.77,203 L420.87,203.44 L420.98,203.88 L421.08,204.33 L421.18,204.79 L421.29,205.25 L421.39,205.72 L421.5,206.18 L421.6,206.64 L421.7,207.1 L421.81,207.56 L421.91,208 L422.02,208.42 L422.12,208.83 L422.22,209.21 L422.33,209.56 L422.43,209.87 L422.54,210.13 L422.64,210.35 L422.74,210.51 L422.85,210.61 L422.95,210.66 L423.06,210.69 L423.16,210.66 L423.26,210.58 L423.37,210.45 L423.47,210.27 L423.58,210.05 L423.68,209.79 L423.78,209.51 L423.89,209.21 L423.99,208.89 L424.1,208.56 L424.2,208.22 L424.3,207.87 L424.41,207.52 L424.51,207.17 L424.62,206.83 L424.72,206.49 L424.82,206.15 L424.93,205.82 L425.03,205.5 L425.13,205.18 L425.24,204.87 L425.34,204.57 L425.45,204.28 L425.55,203.99 L425.65,203.72 L425.76,203.45 L425.86,203.19 L425.97,202.93 L426.07,202.69 L426.17,202.45 L426.28,202.22 L426.38,202 L426.49,201.78 L426.59,201.57 L426.69,201.37 L426.8,201.17 L426.9,200.98 L427.01,200.8 L427.11,200.62 L427.21,200.45 L427.32,200.28 L427.42,200.12 L427.53,199.97 L427.63,199.82 L427.73,199.68 L427.84,199.54 L427.94,199.4 L428.05,199.27 L428.15,199.15 L428.25,199.03 L428.36,198.91 L428.46,198.8 L428.57,198.69 L428.67,198.59 L428.77,198.49 L428.88,198.4 L428.98,198.3 L429.08,198.22 L429.19,198.13 L429.29,198.05 L429.4,197.98 L429.5,197.91 L429.6,197.84 L429.71,197.77 L429.81,197.71 L429.92,197.65 L430.02,197.6 L430.12,197.54 L430.23,197.49 L430.33,197.45 L430.44,197.41 L430.54,197.37 L430.64,197.33 L430.75,197.3 L430.85,197.26 L430.96,197.24 L431.06,197.21 L431.16,197.19 L431.27,197.17 L431.37,197.15 L431.48,197.14 L431.58,197.13 L431.68,197.12 L431.79,197.12 L431.89,197.11 L432,197.12 L432.1,197.12 L432.2,197.12 L432.31,197.13 L432.41,197.14 L432.52,197.16 L432.62,197.17 L432.72,197.19 L432.83,197.21 L432.93,197.24 L433.03,197.26 L433.14,197.29 L433.24,197.32 L433.35,197.36 L433.45,197.39 L433.55,197.43 L433.66,197.47 L433.76,197.52 L433.87,197.57 L433.97,197.61 L434.07,197.67 L434.18,197.72 L434.28,197.78 L434.39,197.84 L434.49,197.9 L434.59,197.97 L434.7,198.04 L434.8,198.11 L434.91,198.18 L435.01,198.26 L435.11,198.33 L435.22,198.42 L435.32,198.5 L435.43,198.59 L435.53,198.68 L435.63,198.77 L435.74,198.87 L435.84,198.96 L435.95,199.07 L436.05,199.17 L436.15,199.28 L436.26,199.39 L436.36,199.5 L436.47,199.62 L436.57,199.74 L436.67,199.86 L436.78,199.99 L436.88,200.12 L436.99,200.25 L437.09,200.39 L437.19,200.53 L437.3,200.67 L437.4,200.82 L437.5,200.97 L437.61,201.12 L437.71,201.28 L437.82,201.44 L437.92,201.61 L438.02,201.78 L438.13,201.95 L438.23,202.13 L438.34,202.31 L438.44,202.5 L438.54,202.69 L438.65,202.89 L438.75,203.09 L438.86,203.3 L438.96,203.51 L439.06,203.72 L439.17,203.95 L439.27,204.17 L439.38,204.41 L439.48,204.65 L439.58,204.89 L439.69,205.14 L439.79,205.4 L439.9,205.66 L440,205.93 L440.1,206.21 L440.21,206.5 L440.31,206.79 L440.42,207.09 L440.52,207.4 L440.62,207.72 L440.73,208.04 L440.83,208.38 L440.94,208.72 L441.04,209.08 L441.14,209.44 L441.25,209.82 L441.35,210.21 L441.45,210.61 L441.56,211.02 L441.66,211.44 L441.77,211.88 L441.87,212.33 L441.97,212.79 L442.08,213.27 L442.18,213.76 L442.29,214.26 L442.39,214.79 L442.49,215.32 L442.6,215.87 L442.7,216.43 L442.81,217 L442.91,217.58 L443.01,218.17 L443.12,218.75 L443.22,219.33 L443.33,219.89 L443.43,220.43 L443.53,220.94 L443.64,221.39 L443.74,221.78 L443.85,222.09 L443.95,222.3 L444.05,222.41 L444.16,222.39 L444.26,222.26 L444.37,222.03 L444.47,221.72 L444.57,221.34 L444.68,220.91 L444.78,220.43 L444.89,219.93 L444.99,219.42 L445.09,218.89 L445.2,218.36 L445.3,217.84 L445.41,217.33 L445.51,216.82 L445.61,216.33 L445.72,215.85 L445.82,215.38 L445.92,214.93 L446.03,214.5 L446.13,214.07 L446.24,213.66 L446.34,213.27 L446.44,212.89 L446.55,212.52 L446.65,212.17 L446.76,211.82 L446.86,211.49 L446.96,211.17 L447.07,210.86 L447.17,210.56 L447.28,210.27 L447.38,209.99 L447.48,209.72 L447.59,209.46 L447.69,209.21 L447.8,208.97 L447.9,208.73 L448,208.5 L448.11,208.28 L448.21,208.07 L448.32,207.86 L448.42,207.66 L448.52,207.47 L448.63,207.28 L448.73,207.1 L448.84,206.92 L448.94,206.75 L449.04,206.59 L449.15,206.43 L449.25,206.28 L449.36,206.13 L449.46,205.99 L449.56,205.85 L449.67,205.72 L449.77,205.59 L449.87,205.46 L449.98,205.34 L450.08,205.23 L450.19,205.12 L450.29,205.01 L450.39,204.9 L450.5,204.81 L450.6,204.71 L450.71,204.62 L450.81,204.53 L450.91,204.45 L451.02,204.37 L451.12,204.29 L451.23,204.21 L451.33,204.14 L451.43,204.08 L451.54,204.01 L451.64,203.95 L451.75,203.9 L451.85,203.84 L451.95,203.79 L452.06,203.75 L452.16,203.7 L452.27,203.66 L452.37,203.62 L452.47,203.59 L452.58,203.55 L452.68,203.52 L452.79,203.5 L452.89,203.47 L452.99,203.45 L453.1,203.44 L453.2,203.42 L453.31,203.41 L453.41,203.4 L453.51,203.39 L453.62,203.39 L453.72,203.39 L453.82,203.39 L453.93,203.39 L454.03,203.4 L454.14,203.41 L454.24,203.42 L454.34,203.44 L454.45,203.45 L454.55,203.47 L454.66,203.5 L454.76,203.52 L454.86,203.55 L454.97,203.58 L455.07,203.62 L455.18,203.65 L455.28,203.69 L455.38,203.74 L455.49,203.78 L455.59,203.83 L455.7,203.88 L455.8,203.93 L455.9,203.99 L456.01,204.05 L456.11,204.11 L456.22,204.17 L456.32,204.24 L456.42,204.31 L456.53,204.38 L456.63,204.46 L456.74,204.54 L456.84,204.62 L456.94,204.7 L457.05,204.79 L457.15,204.88 L457.26,204.98 L457.36,205.07 L457.46,205.17 L457.57,205.28 L457.67,205.38 L457.78,205.49 L457.88,205.61 L457.98,205.72 L458.09,205.84 L458.19,205.97 L458.29,206.09 L458.4,206.23 L458.5,206.36 L458.61,206.5 L458.71,206.64 L458.81,206.79 L458.92,206.94 L459.02,207.09 L459.13,207.25 L459.23,207.41 L459.33,207.58 L459.44,207.75 L459.54,207.93 L459.65,208.11 L459.75,208.29 L459.85,208.48 L459.96,208.68 L460.06,208.88 L460.17,209.09 L460.27,209.3 L460.37,209.51 L460.48,209.74 L460.58,209.97 L460.69,210.2 L460.79,210.44 L460.89,210.69 L461,210.94 L461.1,211.21 L461.21,211.48 L461.31,211.75 L461.41,212.04 L461.52,212.33 L461.62,212.63 L461.73,212.94 L461.83,213.26 L461.93,213.59 L462.04,213.93 L462.14,214.28 L462.24,214.64 L462.35,215.01 L462.45,215.39 L462.56,215.78 L462.66,216.19 L462.76,216.61 L462.87,217.05 L462.97,217.49 L463.08,217.96 L463.18,218.44 L463.28,218.93 L463.39,219.44 L463.49,219.96 L463.6,220.5 L463.7,221.06 L463.8,221.63 L463.91,222.21 L464.01,222.8 L464.12,223.4 L464.22,224 L464.32,224.59 L464.43,225.17 L464.53,225.73 L464.64,226.24 L464.74,226.71 L464.84,227.1 L464.95,227.4 L465.05,227.6 L465.16,227.68 L465.26,227.64 L465.36,227.49 L465.47,227.23 L465.57,226.89 L465.68,226.47 L465.78,225.99 L465.88,225.48 L465.99,224.94 L466.09,224.38 L466.2,223.82 L466.3,223.26 L466.4,222.71 L466.51,222.16 L466.61,221.63 L466.71,221.11 L466.82,220.61 L466.92,220.12 L467.03,219.65 L467.13,219.2 L467.23,218.76 L467.34,218.33 L467.44,217.92 L467.55,217.52 L467.65,217.14 L467.75,216.77 L467.86,216.42 L467.96,216.07 L468.07,215.74 L468.17,215.42 L468.27,215.11 L468.38,214.81 L468.48,214.51 L468.59,214.23 L468.69,213.96 L468.79,213.7 L468.9,213.44 L469,213.2 L469.11,212.96 L469.21,212.73 L469.31,212.51 L469.42,212.29 L469.52,212.08 L469.63,211.88 L469.73,211.68 L469.83,211.49 L469.94,211.31 L470.04,211.13 L470.15,210.95 L470.25,210.79 L470.35,210.62 L470.46,210.47 L470.56,210.32 L470.66,210.17 L470.77,210.03 L470.87,209.89 L470.98,209.76 L471.08,209.63 L471.18,209.5 L471.29,209.39 L471.39,209.27 L471.5,209.16 L471.6,209.05 L471.7,208.95 L471.81,208.85 L471.91,208.75 L472.02,208.66 L472.12,208.57 L472.22,208.49 L472.33,208.41 L472.43,208.33 L472.54,208.25 L472.64,208.18 L472.74,208.11 L472.85,208.05 L472.95,207.99 L473.06,207.93 L473.16,207.88 L473.26,207.82 L473.37,207.77 L473.47,207.73 L473.58,207.69 L473.68,207.65 L473.78,207.61 L473.89,207.58 L473.99,207.55 L474.1,207.52 L474.2,207.49 L474.3,207.47 L474.41,207.45 L474.51,207.43 L474.62,207.42 L474.72,207.41 L474.82,207.4 L474.93,207.4 L475.03,207.39 L475.13,207.39 L475.24,207.4 L475.34,207.4 L475.45,207.41 L475.55,207.42 L475.65,207.44 L475.76,207.45 L475.86,207.47 L475.97,207.49 L476.07,207.52 L476.17,207.55 L476.28,207.58 L476.38,207.61 L476.49,207.64 L476.59,207.68 L476.69,207.72 L476.8,207.77 L476.9,207.81 L477.01,207.86 L477.11,207.92 L477.21,207.97 L477.32,208.03 L477.42,208.09 L477.53,208.15 L477.63,208.22 L477.73,208.29 L477.84,208.36 L477.94,208.44 L478.05,208.52 L478.15,208.6 L478.25,208.68 L478.36,208.77 L478.46,208.86 L478.57,208.96 L478.67,209.05 L478.77,209.15 L478.88,209.26 L478.98,209.37 L479.08,209.48 L479.19,209.59 L479.29,209.71 L479.4,209.83 L479.5,209.96 L479.6,210.08 L479.71,210.22 L479.81,210.35 L479.92,210.49 L480.02,210.64 L480.12,210.79 L480.23,210.94 L480.33,211.1 L480.44,211.26 L480.54,211.42 L480.64,211.59 L480.75,211.77 L480.85,211.95 L480.96,212.13 L481.06,212.32 L481.16,212.52 L481.27,212.72 L481.37,212.93 L481.48,213.14 L481.58,213.35 L481.68,213.58 L481.79,213.81 L481.89,214.04 L482,214.29 L482.1,214.54 L482.2,214.79 L482.31,215.06 L482.41,215.33 L482.52,215.61 L482.62,215.89 L482.72,216.19 L482.83,216.5 L482.93,216.81 L483.03,217.13 L483.14,217.47 L483.24,217.81 L483.35,218.17 L483.45,218.53 L483.55,218.91 L483.66,219.3 L483.76,219.7 L483.87,220.12 L483.97,220.55 L484.07,220.99 L484.18,221.45 L484.28,221.92 L484.39,222.41 L484.49,222.92 L484.59,223.44 L484.7,223.97 L484.8,224.52 L484.91,225.09 L485.01,225.66 L485.11,226.25 L485.22,226.84 L485.32,227.44 L485.43,228.03 L485.53,228.6 L485.63,229.15 L485.74,229.66 L485.84,230.12 L485.95,230.5 L486.05,230.79 L486.15,230.98 L486.26,231.06 L486.36,231.02 L486.47,230.87 L486.57,230.61 L486.67,230.26 L486.78,229.84 L486.88,229.36 L486.99,228.85 L487.09,228.3 L487.19,227.74 L487.3,227.18 L487.4,226.61 L487.5,226.05 L487.61,225.5 L487.71,224.97 L487.82,224.44 L487.92,223.94 L488.02,223.44 L488.13,222.97 L488.23,222.51 L488.34,222.06 L488.44,221.63 L488.54,221.21 L488.65,220.81 L488.75,220.43 L488.86,220.05 L488.96,219.69 L489.06,219.34 L489.17,219 L489.27,218.68 L489.38,218.36 L489.48,218.05 L489.58,217.76 L489.69,217.47 L489.79,217.2 L489.9,216.93 L490,216.67 L490.1,216.42 L490.21,216.18 L490.31,215.94 L490.42,215.71 L490.52,215.49 L490.62,215.28 L490.73,215.07 L490.83,214.87 L490.94,214.67 L491.04,214.49 L491.14,214.3 L491.25,214.13 L491.35,213.95 L491.45,213.79 L491.56,213.63 L491.66,213.47 L491.77,213.32 L491.87,213.17 L491.97,213.03 L492.08,212.89 L492.18,212.76 L492.29,212.63 L492.39,212.51 L492.49,212.39 L492.6,212.27 L492.7,212.16 L492.81,212.06 L492.91,211.95 L493.01,211.85 L493.12,211.76 L493.22,211.66 L493.33,211.57 L493.43,211.49 L493.53,211.41 L493.64,211.33 L493.74,211.25 L493.85,211.18 L493.95,211.11 L494.05,211.05 L494.16,210.99 L494.26,210.93 L494.37,210.87 L494.47,210.82 L494.57,210.77 L494.68,210.72 L494.78,210.68 L494.89,210.64 L494.99,210.6 L495.09,210.57 L495.2,210.53 L495.3,210.51 L495.4,210.48 L495.51,210.46 L495.61,210.44 L495.72,210.42 L495.82,210.4 L495.92,210.39 L496.03,210.38 L496.13,210.38 L496.24,210.37 L496.34,210.37 L496.44,210.37 L496.55,210.38 L496.65,210.39 L496.76,210.4 L496.86,210.41 L496.96,210.43 L497.07,210.44 L497.17,210.46 L497.28,210.49 L497.38,210.51 L497.48,210.54 L497.59,210.58 L497.69,210.61 L497.8,210.65 L497.9,210.69 L498,210.73 L498.11,210.78 L498.21,210.83 L498.32,210.88 L498.42,210.93 L498.52,210.99 L498.63,211.05 L498.73,211.12 L498.84,211.18 L498.94,211.25 L499.04,211.32 L499.15,211.4 L499.25,211.48 L499.36,211.56 L499.46,211.64 L499.56,211.73 L499.67,211.82 L499.77,211.92 L499.87,212.01 L499.98,212.11 L500.08,212.22 L500.19,212.33 L500.29,212.44 L500.39,212.55 L500.5,212.67 L500.6,212.79 L500.71,212.92 L500.81,213.05 L500.91,213.18 L501.02,213.32 L501.12,213.46 L501.23,213.61 L501.33,213.76 L501.43,213.91 L501.54,214.07 L501.64,214.23 L501.75,214.4 L501.85,214.57 L501.95,214.75 L502.06,214.93 L502.16,215.12 L502.27,215.31 L502.37,215.51 L502.47,215.72 L502.58,215.93 L502.68,216.14 L502.79,216.36 L502.89,216.59 L502.99,216.83 L503.1,217.07 L503.2,217.31 L503.31,217.57 L503.41,217.83 L503.51,218.1 L503.62,218.38 L503.72,218.67 L503.82,218.96 L503.93,219.27 L504.03,219.58 L504.14,219.91 L504.24,220.24 L504.34,220.59 L504.45,220.94 L504.55,221.31 L504.66,221.69 L504.76,222.08 L504.86,222.49 L504.97,222.91 L505.07,223.35 L505.18,223.8 L505.28,224.26 L505.38,224.74 L505.49,225.24 L505.59,225.76 L505.7,226.29 L505.8,226.85 L505.8,226.85" stroke="#e5132b" stroke-width="1.35" fill="none" stroke-linejoin="round"/>
<line x1="423.7" y1="222.6" x2="444.9" y2="222.6" stroke="#9fb89f" stroke-width="0.7"/>
<line x1="431.1" y1="199" x2="431.1" y2="218" stroke="#2e8b2e" stroke-width="1.1"/>
<polygon points="431.1,222.4 428.9,217 433.3,217" fill="#2e8b2e"/>
<text x="436.4" y="194.8" text-anchor="middle" font-size="8.5" style="color:#222">17.1dB</text>
<line x1="420.5" y1="146.6" x2="436.2" y2="146.6" stroke="#b81830" stroke-width="1.1"/>
<line x1="420.5" y1="153.8" x2="436.2" y2="153.8" stroke="#c01a32" stroke-width="1.1"/>
<text x="438" y="149" font-size="6.55">BFL(without OIL)</text>
<text x="438" y="156.1" font-size="6.4">Coherent fitting</text>
<path d="M297.9,236.6 v-2.0 M297.9,139.5 v2.0 M349.88,236.6 v-2.0 M349.88,139.5 v2.0 M401.85,236.6 v-2.0 M401.85,139.5 v2.0 M453.82,236.6 v-2.0 M453.82,139.5 v2.0 M505.8,236.6 v-2.0 M505.8,139.5 v2.0 M297.9,142.3 h2.0 M505.8,142.3 h-2.0 M297.9,169.32 h2.0 M505.8,169.32 h-2.0 M297.9,196.34 h2.0 M505.8,196.34 h-2.0 M297.9,223.36 h2.0 M505.8,223.36 h-2.0" stroke="#5a5a5a" stroke-width="0.8" fill="none"/>
<rect x="297.9" y="139.5" width="207.9" height="97.1" stroke="#5a5a5a" stroke-width="1" fill="none"/>
<text x="297.9" y="247.6" text-anchor="middle" font-size="8">3.9</text>
<text x="349.88" y="247.6" text-anchor="middle" font-size="8">3.95</text>
<text x="401.85" y="247.6" text-anchor="middle" font-size="8">4</text>
<text x="453.82" y="247.6" text-anchor="middle" font-size="8">4.05</text>
<text x="505.8" y="247.6" text-anchor="middle" font-size="8">4.1</text>
<text x="295.2" y="145.6" text-anchor="end" font-size="8">0</text>
<text x="295.2" y="172.62" text-anchor="end" font-size="8">-20</text>
<text x="295.2" y="199.64" text-anchor="end" font-size="8">-40</text>
<text x="295.2" y="226.66" text-anchor="end" font-size="8">-60</text>
<text x="402.4" y="257.3" text-anchor="middle" font-size="8.95">Offset frequency (Hz)</text>
<text transform="translate(280.5,187.4) rotate(-90)" text-anchor="middle" font-size="8.9">Normalized (dB)</text>
<text x="306.2" y="151.1" font-size="8">(d)</text>
<text x="488.4" y="258.2" font-size="7.6">× 10<tspan dy="-3.9" font-size="5.6">7</tspan></text>
</svg>
</body></html>
